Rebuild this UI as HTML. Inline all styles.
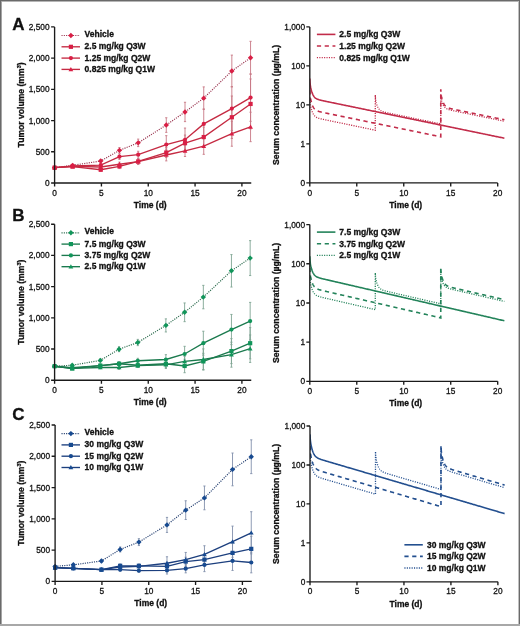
<!DOCTYPE html>
<html><head><meta charset="utf-8"><style>
html,body{margin:0;padding:0;background:#fff;}
body{width:520px;height:626px;overflow:hidden;}
svg{display:block;font-family:"Liberation Sans", sans-serif;will-change:transform;}
.tn{font-weight:normal;fill:#111;stroke:#111;stroke-width:0.28px;}
.tb{font-weight:bold;fill:#111;stroke:#111;stroke-width:0.3px;}
.tr{font-weight:bold;fill:#111;stroke:#111;stroke-width:0.3px;}
</style></head><body>
<svg width="520" height="626" viewBox="0 0 520 626">
<rect x="0" y="0" width="520" height="626" fill="#fff"/>
<g fill="#111">
<text class="tb" x="12.2" y="30.4" font-size="17" text-anchor="start" >A</text>
<path d="M54.6 167.02V168.26M53.5 167.02H55.7M53.5 168.26H55.7" stroke="#c87884" stroke-width="0.9" fill="none"/>
<path d="M72.63 164.39V166.27M71.53 164.39H73.73M71.53 166.27H73.73" stroke="#c87884" stroke-width="0.9" fill="none"/>
<path d="M100.73 159.46V162.58M99.63 159.46H101.83M99.63 162.58H101.83" stroke="#c87884" stroke-width="0.9" fill="none"/>
<path d="M119.45 147.53V153.15M118.36 147.53H120.55M118.36 153.15H120.55" stroke="#c87884" stroke-width="0.9" fill="none"/>
<path d="M138.19 139.1V146.6M137.09 139.1H139.28M137.09 146.6H139.28" stroke="#c87884" stroke-width="0.9" fill="none"/>
<path d="M166.28 117.75V132.36M165.18 117.75H167.38M165.18 132.36H167.38" stroke="#c87884" stroke-width="0.9" fill="none"/>
<path d="M185.01 102.27V121.62M183.91 102.27H186.11M183.91 121.62H186.11" stroke="#c87884" stroke-width="0.9" fill="none"/>
<path d="M203.74 86.9V109.38M202.64 86.9H204.84M202.64 109.38H204.84" stroke="#c87884" stroke-width="0.9" fill="none"/>
<path d="M231.84 55.12V86.84M230.74 55.12H232.94M230.74 86.84H232.94" stroke="#c87884" stroke-width="0.9" fill="none"/>
<path d="M250.56 41.32V74.29M249.47 41.32H251.66M249.47 74.29H251.66" stroke="#c87884" stroke-width="0.9" fill="none"/>
<path d="M54.6 167.02V168.26M53.5 167.02H55.7M53.5 168.26H55.7" stroke="#c87884" stroke-width="0.9" fill="none"/>
<path d="M72.63 165.7V167.58M71.53 165.7H73.73M71.53 167.58H73.73" stroke="#c87884" stroke-width="0.9" fill="none"/>
<path d="M100.73 168.51V171.01M99.63 168.51H101.83M99.63 171.01H101.83" stroke="#c87884" stroke-width="0.9" fill="none"/>
<path d="M119.45 164.21V168.58M118.36 164.21H120.55M118.36 168.58H120.55" stroke="#c87884" stroke-width="0.9" fill="none"/>
<path d="M138.19 158.65V164.27M137.09 158.65H139.28M137.09 164.27H139.28" stroke="#c87884" stroke-width="0.9" fill="none"/>
<path d="M166.28 147.53V157.52M165.18 147.53H167.38M165.18 157.52H167.38" stroke="#c87884" stroke-width="0.9" fill="none"/>
<path d="M185.01 135.05V151.28M183.91 135.05H186.11M183.91 151.28H186.11" stroke="#c87884" stroke-width="0.9" fill="none"/>
<path d="M203.74 127.05V147.03M202.64 127.05H204.84M202.64 147.03H204.84" stroke="#c87884" stroke-width="0.9" fill="none"/>
<path d="M231.84 96.02V138.48M230.74 96.02H232.94M230.74 138.48H232.94" stroke="#c87884" stroke-width="0.9" fill="none"/>
<path d="M250.56 78.97V128.93M249.47 78.97H251.66M249.47 128.93H251.66" stroke="#c87884" stroke-width="0.9" fill="none"/>
<path d="M54.6 167.02V168.26M53.5 167.02H55.7M53.5 168.26H55.7" stroke="#c87884" stroke-width="0.9" fill="none"/>
<path d="M72.63 165.08V166.95M71.53 165.08H73.73M71.53 166.95H73.73" stroke="#c87884" stroke-width="0.9" fill="none"/>
<path d="M100.73 163.64V166.77M99.63 163.64H101.83M99.63 166.77H101.83" stroke="#c87884" stroke-width="0.9" fill="none"/>
<path d="M119.45 153.84V159.46M118.36 153.84H120.55M118.36 159.46H120.55" stroke="#c87884" stroke-width="0.9" fill="none"/>
<path d="M138.19 151.28V158.15M137.09 151.28H139.28M137.09 158.15H139.28" stroke="#c87884" stroke-width="0.9" fill="none"/>
<path d="M166.28 135.67V153.4M165.18 135.67H167.38M165.18 153.4H167.38" stroke="#c87884" stroke-width="0.9" fill="none"/>
<path d="M185.01 128.05V151.41M183.91 128.05H186.11M183.91 151.41H186.11" stroke="#c87884" stroke-width="0.9" fill="none"/>
<path d="M203.74 108.95V138.92M202.64 108.95H204.84M202.64 138.92H204.84" stroke="#c87884" stroke-width="0.9" fill="none"/>
<path d="M231.84 86.72V130.43M230.74 86.72H232.94M230.74 130.43H232.94" stroke="#c87884" stroke-width="0.9" fill="none"/>
<path d="M250.56 73.85V121.31M249.47 73.85H251.66M249.47 121.31H251.66" stroke="#c87884" stroke-width="0.9" fill="none"/>
<path d="M54.6 167.02V168.26M53.5 167.02H55.7M53.5 168.26H55.7" stroke="#c87884" stroke-width="0.9" fill="none"/>
<path d="M72.63 165.45V167.33M71.53 165.45H73.73M71.53 167.33H73.73" stroke="#c87884" stroke-width="0.9" fill="none"/>
<path d="M100.73 165.77V168.26M99.63 165.77H101.83M99.63 168.26H101.83" stroke="#c87884" stroke-width="0.9" fill="none"/>
<path d="M119.45 162.08V166.45M118.36 162.08H120.55M118.36 166.45H120.55" stroke="#c87884" stroke-width="0.9" fill="none"/>
<path d="M138.19 158.9V164.52M137.09 158.9H139.28M137.09 164.52H139.28" stroke="#c87884" stroke-width="0.9" fill="none"/>
<path d="M166.28 149.16V160.9M165.18 149.16H167.38M165.18 160.9H167.38" stroke="#c87884" stroke-width="0.9" fill="none"/>
<path d="M185.01 145.29V156.53M183.91 145.29H186.11M183.91 156.53H186.11" stroke="#c87884" stroke-width="0.9" fill="none"/>
<path d="M203.74 138.11V154.34M202.64 138.11H204.84M202.64 154.34H204.84" stroke="#c87884" stroke-width="0.9" fill="none"/>
<path d="M231.84 121.25V146.22M230.74 121.25H232.94M230.74 146.22H232.94" stroke="#c87884" stroke-width="0.9" fill="none"/>
<path d="M250.56 112.19V141.66M249.47 112.19H251.66M249.47 141.66H251.66" stroke="#c87884" stroke-width="0.9" fill="none"/>
<polyline points="54.6,167.64 72.63,165.33 100.73,161.02 119.45,150.34 138.19,142.85 166.28,125.06 185.01,111.94 203.74,98.14 231.84,70.98 250.56,57.81" fill="none" stroke="#9a3550" stroke-width="1.2" stroke-dasharray="1.1 1.2"/>
<polyline points="54.6,167.64 72.63,166.64 100.73,169.76 119.45,166.39 138.19,161.46 166.28,152.53 185.01,143.16 203.74,137.04 231.84,117.25 250.56,103.95" fill="none" stroke="#c52a42" stroke-width="1.35"/>
<polyline points="54.6,167.64 72.63,166.02 100.73,165.2 119.45,156.65 138.19,154.71 166.28,144.54 185.01,139.73 203.74,123.93 231.84,108.57 250.56,97.58" fill="none" stroke="#c52a42" stroke-width="1.35"/>
<polyline points="54.6,167.64 72.63,166.39 100.73,167.02 119.45,164.27 138.19,161.71 166.28,155.03 185.01,150.91 203.74,146.22 231.84,133.73 250.56,126.93" fill="none" stroke="#c52a42" stroke-width="1.35"/>
<path d="M54.6 164.94L57.3 167.64L54.6 170.34L51.9 167.64Z" fill="#d91f45"/>
<path d="M72.63 162.63L75.33 165.33L72.63 168.03L69.93 165.33Z" fill="#d91f45"/>
<path d="M100.73 158.32L103.43 161.02L100.73 163.72L98.03 161.02Z" fill="#d91f45"/>
<path d="M119.45 147.64L122.16 150.34L119.45 153.04L116.75 150.34Z" fill="#d91f45"/>
<path d="M138.19 140.15L140.88 142.85L138.19 145.55L135.49 142.85Z" fill="#d91f45"/>
<path d="M166.28 122.36L168.98 125.06L166.28 127.76L163.58 125.06Z" fill="#d91f45"/>
<path d="M185.01 109.24L187.71 111.94L185.01 114.64L182.31 111.94Z" fill="#d91f45"/>
<path d="M203.74 95.44L206.44 98.14L203.74 100.84L201.04 98.14Z" fill="#d91f45"/>
<path d="M231.84 68.28L234.53 70.98L231.84 73.68L229.14 70.98Z" fill="#d91f45"/>
<path d="M250.56 55.11L253.26 57.81L250.56 60.51L247.87 57.81Z" fill="#d91f45"/>
<rect x="52.5" y="165.54" width="4.2" height="4.2" fill="#d91f45"/>
<rect x="70.53" y="164.54" width="4.2" height="4.2" fill="#d91f45"/>
<rect x="98.63" y="167.66" width="4.2" height="4.2" fill="#d91f45"/>
<rect x="117.36" y="164.29" width="4.2" height="4.2" fill="#d91f45"/>
<rect x="136.09" y="159.36" width="4.2" height="4.2" fill="#d91f45"/>
<rect x="164.18" y="150.43" width="4.2" height="4.2" fill="#d91f45"/>
<rect x="182.91" y="141.06" width="4.2" height="4.2" fill="#d91f45"/>
<rect x="201.64" y="134.94" width="4.2" height="4.2" fill="#d91f45"/>
<rect x="229.74" y="115.15" width="4.2" height="4.2" fill="#d91f45"/>
<rect x="248.47" y="101.85" width="4.2" height="4.2" fill="#d91f45"/>
<circle cx="54.6" cy="167.64" r="2.1" fill="#d91f45"/>
<circle cx="72.63" cy="166.02" r="2.1" fill="#d91f45"/>
<circle cx="100.73" cy="165.2" r="2.1" fill="#d91f45"/>
<circle cx="119.45" cy="156.65" r="2.1" fill="#d91f45"/>
<circle cx="138.19" cy="154.71" r="2.1" fill="#d91f45"/>
<circle cx="166.28" cy="144.54" r="2.1" fill="#d91f45"/>
<circle cx="185.01" cy="139.73" r="2.1" fill="#d91f45"/>
<circle cx="203.74" cy="123.93" r="2.1" fill="#d91f45"/>
<circle cx="231.84" cy="108.57" r="2.1" fill="#d91f45"/>
<circle cx="250.56" cy="97.58" r="2.1" fill="#d91f45"/>
<path d="M54.6 165.24L57 169.44L52.2 169.44Z" fill="#d91f45"/>
<path d="M72.63 163.99L75.03 168.19L70.23 168.19Z" fill="#d91f45"/>
<path d="M100.73 164.62L103.13 168.82L98.33 168.82Z" fill="#d91f45"/>
<path d="M119.45 161.87L121.86 166.07L117.05 166.07Z" fill="#d91f45"/>
<path d="M138.19 159.31L140.59 163.51L135.78 163.51Z" fill="#d91f45"/>
<path d="M166.28 152.63L168.68 156.83L163.88 156.83Z" fill="#d91f45"/>
<path d="M185.01 148.51L187.41 152.71L182.61 152.71Z" fill="#d91f45"/>
<path d="M203.74 143.82L206.14 148.02L201.34 148.02Z" fill="#d91f45"/>
<path d="M231.84 131.33L234.24 135.53L229.44 135.53Z" fill="#d91f45"/>
<path d="M250.56 124.53L252.97 128.73L248.16 128.73Z" fill="#d91f45"/>
<path d="M54.6 26.9V183H251.26" stroke="#1a1a1a" stroke-width="1.35" fill="none"/>
<path d="M51.1 183H54.6M51.1 151.78H54.6M51.1 120.56H54.6M51.1 89.34H54.6M51.1 58.12H54.6M51.1 26.9H54.6M54.6 183V186.5M101.43 183V186.5M148.25 183V186.5M195.07 183V186.5M241.9 183V186.5" stroke="#1a1a1a" stroke-width="1.35" fill="none"/>
<text class="tn" x="49.5" y="186" font-size="8.3" text-anchor="end" >0</text>
<text class="tn" x="49.5" y="154.78" font-size="8.3" text-anchor="end" >500</text>
<text class="tn" x="49.5" y="123.56" font-size="8.3" text-anchor="end" >1,000</text>
<text class="tn" x="49.5" y="92.34" font-size="8.3" text-anchor="end" >1,500</text>
<text class="tn" x="49.5" y="61.12" font-size="8.3" text-anchor="end" >2,000</text>
<text class="tn" x="49.5" y="29.9" font-size="8.3" text-anchor="end" >2,500</text>
<text class="tn" x="54.6" y="195.6" font-size="8.3" text-anchor="middle" >0</text>
<text class="tn" x="101.43" y="195.6" font-size="8.3" text-anchor="middle" >5</text>
<text class="tn" x="148.25" y="195.6" font-size="8.3" text-anchor="middle" >10</text>
<text class="tn" x="195.07" y="195.6" font-size="8.3" text-anchor="middle" >15</text>
<text class="tn" x="241.9" y="195.6" font-size="8.3" text-anchor="middle" >20</text>
<text class="tb" x="150.25" y="207.7" font-size="8.5" text-anchor="middle" >Time (d)</text>
<text class="tr" transform="translate(24.2 104.95) rotate(-90)" font-size="8.6" text-anchor="middle">Tumor volume (mm<tspan font-size="5.5" dy="-3">3</tspan><tspan dy="3">)</tspan></text>
<path d="M61.5 35.5H80" stroke="#9a3550" stroke-width="1.2" stroke-dasharray="1.1 1.2"/>
<path d="M70.9 32.8L73.6 35.5L70.9 38.2L68.2 35.5Z" fill="#d91f45"/>
<text class="tb" x="84.6" y="36.9" font-size="8.5" text-anchor="start" >Vehicle</text>
<path d="M61.5 46.8H80" stroke="#c52a42" stroke-width="1.35"/>
<rect x="68.8" y="44.7" width="4.2" height="4.2" fill="#d91f45"/>
<text class="tb" x="84.6" y="49.3" font-size="8.5" text-anchor="start" >2.5 mg/kg Q3W</text>
<path d="M61.5 58.1H80" stroke="#c52a42" stroke-width="1.35"/>
<circle cx="70.9" cy="58.1" r="2.1" fill="#d91f45"/>
<text class="tb" x="84.6" y="60.6" font-size="8.5" text-anchor="start" >1.25 mg/kg Q2W</text>
<path d="M61.5 69.4H80" stroke="#c52a42" stroke-width="1.35"/>
<path d="M70.9 67L73.3 71.2L68.5 71.2Z" fill="#d91f45"/>
<text class="tb" x="84.6" y="71.9" font-size="8.5" text-anchor="start" >0.825 mg/kg Q1W</text>
<clipPath id="cpA"><rect x="309.8" y="6.9" width="210" height="175.5"/></clipPath>
<polyline points="309.8,78.54 309.8,78.57 309.81,78.67 309.81,78.85 309.83,79.11 309.84,79.46 309.86,79.87 309.89,80.35 309.92,80.89 309.96,81.47 310,82.07 310.04,82.69 310.09,83.31 310.15,83.91 310.21,84.51 310.28,85.08 310.35,85.63 310.43,86.16 310.52,86.68 310.61,87.18 310.71,87.67 310.81,88.15 310.92,88.63 311.03,89.11 311.15,89.59 311.28,90.07 311.41,90.55 311.55,91.03 311.7,91.5 311.85,91.98 312.01,92.44 312.17,92.9 312.35,93.35 312.53,93.79 312.71,94.22 312.9,94.64 313.1,95.03 313.31,95.42 313.52,95.78 313.74,96.13 313.96,96.45 314.19,96.76 314.43,97.05 314.68,97.33 314.93,97.58 315.19,97.82 315.46,98.04 315.73,98.25 316.01,98.44 316.3,98.62 316.6,98.79 316.9,98.94 317.21,99.09 317.53,99.23 317.85,99.35 318.18,99.48 318.52,99.59 318.87,99.7 319.22,99.81 319.58,99.91 319.95,100.01 320.33,100.11 320.71,100.21 321.1,100.3 321.5,100.4 321.91,100.49 322.32,100.58 322.74,100.68 323.17,100.77 323.61,100.87 324.05,100.96 324.5,101.06 324.96,101.15 325.43,101.25 325.91,101.35 326.39,101.45 326.88,101.55 327.38,101.66 327.88,101.76 328.4,101.87 328.92,101.98 329.45,102.09 329.99,102.2 330.53,102.31 331.09,102.43 331.65,102.54 332.22,102.66 332.79,102.78 333.38,102.9 333.97,103.02 334.57,103.15 335.18,103.27 335.8,103.4 336.43,103.53 337.06,103.66 337.7,103.79 338.35,103.93 339.01,104.06 339.68,104.2 340.35,104.34 341.04,104.48 341.73,104.62 342.43,104.77 343.14,104.91 343.85,105.06 344.58,105.21 345.31,105.36 346.05,105.51 346.8,105.67 347.56,105.83 348.32,105.98 349.1,106.14 349.88,106.31 350.67,106.47 351.47,106.63 352.28,106.8 353.1,106.97 353.92,107.14 354.76,107.31 355.6,107.49 356.45,107.66 357.31,107.84 358.18,108.02 359.06,108.2 359.94,108.38 360.83,108.57 361.74,108.75 362.65,108.94 363.57,109.13 364.5,109.32 365.43,109.52 366.38,109.71 367.33,109.91 368.3,110.11 369.27,110.31 370.25,110.51 371.24,110.71 372.24,110.92 373.24,111.13 374.26,111.34 375.28,111.55 375.29,111.55 375.29,111.55 375.29,111.55 375.3,111.55 375.31,111.55 375.33,111.56 375.35,111.56 375.37,111.57 375.41,111.57 375.44,111.58 375.48,111.59 375.53,111.6 375.58,111.61 375.64,111.62 375.7,111.63 375.77,111.65 375.84,111.66 375.92,111.68 376,111.7 376.09,111.72 376.19,111.74 376.29,111.76 376.4,111.78 376.52,111.8 376.64,111.83 376.76,111.85 376.9,111.88 377.04,111.91 377.18,111.94 377.34,111.97 377.49,112 377.66,112.04 377.83,112.07 378.01,112.11 378.2,112.15 378.39,112.19 378.59,112.23 378.79,112.27 379,112.32 379.22,112.36 379.45,112.41 379.68,112.46 379.92,112.5 380.16,112.56 380.42,112.61 380.68,112.66 380.94,112.72 381.22,112.77 381.5,112.83 381.79,112.89 382.08,112.95 382.39,113.01 382.7,113.08 383.01,113.14 383.34,113.21 383.67,113.28 384.01,113.35 384.35,113.42 384.71,113.49 385.07,113.57 385.44,113.64 385.81,113.72 386.2,113.8 386.59,113.88 386.99,113.96 387.39,114.05 387.81,114.13 388.23,114.22 388.66,114.31 389.09,114.4 389.54,114.49 389.99,114.58 390.45,114.68 390.92,114.77 391.39,114.87 391.87,114.97 392.36,115.07 392.86,115.18 393.37,115.28 393.88,115.39 394.4,115.49 394.93,115.6 395.47,115.71 396.02,115.83 396.57,115.94 397.13,116.06 397.7,116.18 398.28,116.29 398.86,116.42 399.46,116.54 400.06,116.66 400.67,116.79 401.29,116.92 401.91,117.04 402.55,117.18 403.19,117.31 403.84,117.44 404.5,117.58 405.16,117.72 405.84,117.85 406.52,118 407.21,118.14 407.91,118.28 408.62,118.43 409.34,118.58 410.06,118.73 410.79,118.88 411.53,119.03 412.28,119.19 413.04,119.34 413.81,119.5 414.58,119.66 415.37,119.82 416.16,119.98 416.96,120.15 417.77,120.32 418.58,120.49 419.41,120.66 420.24,120.83 421.08,121 421.94,121.18 422.8,121.35 423.66,121.53 424.54,121.71 425.43,121.9 426.32,122.08 427.22,122.27 428.13,122.46 429.05,122.65 429.98,122.84 430.92,123.03 431.86,123.23 432.82,123.42 433.78,123.62 434.75,123.82 435.73,124.03 436.72,124.23 437.72,124.44 438.73,124.64 439.75,124.85 440.77,125.06 440.77,125.06 440.77,125.06 440.78,125.07 440.78,125.07 440.8,125.07 440.81,125.07 440.83,125.08 440.86,125.08 440.89,125.09 440.92,125.1 440.96,125.1 441.01,125.11 441.06,125.12 441.11,125.14 441.17,125.15 441.24,125.16 441.31,125.18 441.39,125.19 441.47,125.21 441.56,125.23 441.65,125.25 441.75,125.27 441.85,125.29 441.97,125.31 442.08,125.34 442.21,125.36 442.34,125.39 442.47,125.42 442.61,125.45 442.76,125.48 442.92,125.51 443.08,125.54 443.24,125.58 443.42,125.61 443.6,125.65 443.78,125.69 443.98,125.73 444.17,125.77 444.38,125.81 444.59,125.85 444.81,125.9 445.04,125.95 445.27,125.99 445.51,126.04 445.76,126.09 446.01,126.15 446.27,126.2 446.53,126.25 446.81,126.31 447.09,126.37 447.37,126.43 447.67,126.49 447.97,126.55 448.28,126.61 448.59,126.68 448.91,126.75 449.24,126.81 449.58,126.88 449.92,126.95 450.27,127.03 450.63,127.1 451,127.18 451.37,127.25 451.75,127.33 452.14,127.41 452.53,127.49 452.93,127.58 453.34,127.66 453.76,127.75 454.18,127.83 454.61,127.92 455.05,128.01 455.5,128.1 455.95,128.2 456.42,128.29 456.88,128.39 457.36,128.49 457.84,128.59 458.34,128.69 458.84,128.79 459.34,128.9 459.86,129 460.38,129.11 460.91,129.22 461.45,129.33 461.99,129.44 462.55,129.56 463.11,129.67 463.68,129.79 464.25,129.91 464.84,130.03 465.43,130.15 466.03,130.28 466.64,130.4 467.25,130.53 467.88,130.66 468.51,130.79 469.15,130.92 469.79,131.06 470.45,131.19 471.11,131.33 471.79,131.47 472.47,131.61 473.15,131.75 473.85,131.89 474.55,132.04 475.26,132.18 475.98,132.33 476.71,132.48 477.45,132.64 478.19,132.79 478.95,132.94 479.71,133.1 480.47,133.26 481.25,133.42 482.04,133.58 482.83,133.75 483.63,133.91 484.44,134.08 485.26,134.25 486.09,134.42 486.92,134.59 487.77,134.76 488.62,134.94 489.48,135.12 490.35,135.3 491.22,135.48 492.11,135.66 493,135.85 493.9,136.03 494.81,136.22 495.73,136.41 496.66,136.6 497.6,136.79 498.54,136.99 499.49,137.19 500.45,137.38 501.42,137.58 502.4,137.79 503.39,137.99 504.38,138.19" fill="none" stroke="#c22c4a" stroke-width="1.6" clip-path="url(#cpA)"/>
<polyline points="309.8,90.28 309.8,90.31 309.81,90.41 309.81,90.59 309.83,90.85 309.84,91.2 309.86,91.61 309.89,92.09 309.92,92.63 309.96,93.21 310,93.81 310.04,94.43 310.09,95.05 310.15,95.65 310.21,96.25 310.28,96.82 310.35,97.37 310.43,97.91 310.52,98.42 310.61,98.92 310.71,99.41 310.81,99.89 310.92,100.37 311.03,100.85 311.15,101.33 311.28,101.81 311.41,102.29 311.55,102.77 311.7,103.24 311.85,103.72 312.01,104.18 312.17,104.64 312.35,105.09 312.53,105.53 312.71,105.96 312.9,106.38 313.1,106.77 313.31,107.16 313.52,107.52 313.74,107.87 313.96,108.19 314.19,108.5 314.43,108.79 314.68,109.07 314.93,109.32 315.19,109.56 315.46,109.78 315.73,109.99 316.01,110.18 316.3,110.36 316.6,110.53 316.9,110.68 317.21,110.83 317.53,110.97 317.85,111.09 318.18,111.22 318.52,111.33 318.87,111.44 319.22,111.55 319.58,111.65 319.95,111.75 320.33,111.85 320.71,111.95 321.1,112.04 321.5,112.14 321.91,112.23 322.32,112.32 322.74,112.42 323.17,112.51 323.61,112.61 324.05,112.7 324.5,112.8 324.96,112.89 325.43,112.99 325.91,113.09 326.39,113.19 326.88,113.29 327.38,113.4 327.88,113.5 328.4,113.61 328.92,113.72 329.45,113.83 329.99,113.94 330.53,114.05 331.09,114.17 331.65,114.28 332.22,114.4 332.79,114.52 333.38,114.64 333.97,114.76 334.57,114.89 335.18,115.01 335.8,115.14 336.43,115.27 337.06,115.4 337.7,115.53 338.35,115.67 339.01,115.8 339.68,115.94 340.35,116.08 341.04,116.22 341.73,116.36 342.43,116.51 343.14,116.65 343.85,116.8 344.58,116.95 345.31,117.1 346.05,117.25 346.8,117.41 347.56,117.57 348.32,117.72 349.1,117.88 349.88,118.05 350.67,118.21 351.47,118.37 352.28,118.54 353.1,118.71 353.92,118.88 354.76,119.05 355.6,119.23 356.45,119.4 357.31,119.58 358.18,119.76 359.06,119.94 359.94,120.12 360.83,120.31 361.74,120.49 362.65,120.68 363.57,120.87 364.5,121.06 365.43,121.26 366.38,121.45 367.33,121.65 368.3,121.85 369.27,122.05 370.25,122.25 371.24,122.45 372.24,122.66 373.24,122.87 374.26,123.08 375.28,123.29 375.29,123.29 375.29,123.29 375.29,123.29 375.3,123.29 375.31,123.29 375.33,123.3 375.35,123.3 375.37,123.31 375.41,123.31 375.44,123.32 375.48,123.33 375.53,123.34 375.58,123.35 375.64,123.36 375.7,123.37 375.77,123.39 375.84,123.4 375.92,123.42 376,123.44 376.09,123.46 376.19,123.48 376.29,123.5 376.4,123.52 376.52,123.54 376.64,123.57 376.76,123.59 376.9,123.62 377.04,123.65 377.18,123.68 377.34,123.71 377.49,123.74 377.66,123.78 377.83,123.81 378.01,123.85 378.2,123.89 378.39,123.93 378.59,123.97 378.79,124.01 379,124.06 379.22,124.1 379.45,124.15 379.68,124.2 379.92,124.24 380.16,124.3 380.42,124.35 380.68,124.4 380.94,124.46 381.22,124.51 381.5,124.57 381.79,124.63 382.08,124.69 382.39,124.75 382.7,124.82 383.01,124.88 383.34,124.95 383.67,125.02 384.01,125.09 384.35,125.16 384.71,125.23 385.07,125.31 385.44,125.38 385.81,125.46 386.2,125.54 386.59,125.62 386.99,125.7 387.39,125.79 387.81,125.87 388.23,125.96 388.66,126.05 389.09,126.14 389.54,126.23 389.99,126.32 390.45,126.42 390.92,126.51 391.39,126.61 391.87,126.71 392.36,126.81 392.86,126.92 393.37,127.02 393.88,127.13 394.4,127.23 394.93,127.34 395.47,127.46 396.02,127.57 396.57,127.68 397.13,127.8 397.7,127.92 398.28,128.03 398.86,128.16 399.46,128.28 400.06,128.4 400.67,128.53 401.29,128.66 401.91,128.78 402.55,128.92 403.19,129.05 403.84,129.18 404.5,129.32 405.16,129.46 405.84,129.59 406.52,129.74 407.21,129.88 407.91,130.02 408.62,130.17 409.34,130.32 410.06,130.47 410.79,130.62 411.53,130.77 412.28,130.93 413.04,131.08 413.81,131.24 414.58,131.4 415.37,131.56 416.16,131.72 416.96,131.89 417.77,132.06 418.58,132.23 419.41,132.4 420.24,132.57 421.08,132.74 421.94,132.92 422.8,133.09 423.66,133.27 424.54,133.45 425.43,133.64 426.32,133.82 427.22,134.01 428.13,134.2 429.05,134.39 429.98,134.58 430.92,134.77 431.86,134.97 432.82,135.16 433.78,135.36 434.75,135.56 435.73,135.77 436.72,135.97 437.72,136.18 438.73,136.38 439.75,136.59 440.77,136.8 440.77,89.23 440.77,89.26 440.78,89.35 440.78,89.51 440.8,89.75 440.81,90.06 440.83,90.44 440.86,90.88 440.89,91.37 440.92,91.9 440.96,92.45 441.01,93.02 441.06,93.58 441.11,94.14 441.17,94.68 441.24,95.2 441.31,95.7 441.39,96.19 441.47,96.65 441.56,97.1 441.65,97.55 441.75,97.98 441.85,98.41 441.97,98.83 442.08,99.26 442.21,99.68 442.34,100.11 442.47,100.53 442.61,100.95 442.76,101.36 442.92,101.77 443.08,102.18 443.24,102.58 443.42,102.96 443.6,103.34 443.78,103.7 443.98,104.05 444.17,104.39 444.38,104.71 444.59,105.02 444.81,105.31 445.04,105.58 445.27,105.84 445.51,106.09 445.76,106.31 446.01,106.53 446.27,106.73 446.53,106.92 446.81,107.09 447.09,107.26 447.37,107.41 447.67,107.56 447.97,107.69 448.28,107.82 448.59,107.94 448.91,108.06 449.24,108.17 449.58,108.27 449.92,108.38 450.27,108.47 450.63,108.57 451,108.67 451.37,108.76 451.75,108.85 452.14,108.94 452.53,109.03 452.93,109.12 453.34,109.21 453.76,109.31 454.18,109.4 454.61,109.49 455.05,109.58 455.5,109.68 455.95,109.77 456.42,109.87 456.88,109.97 457.36,110.07 457.84,110.17 458.34,110.27 458.84,110.37 459.34,110.48 459.86,110.59 460.38,110.69 460.91,110.8 461.45,110.91 461.99,111.03 462.55,111.14 463.11,111.26 463.68,111.37 464.25,111.49 464.84,111.61 465.43,111.74 466.03,111.86 466.64,111.99 467.25,112.11 467.88,112.24 468.51,112.37 469.15,112.5 469.79,112.64 470.45,112.77 471.11,112.91 471.79,113.05 472.47,113.19 473.15,113.33 473.85,113.47 474.55,113.62 475.26,113.77 475.98,113.91 476.71,114.06 477.45,114.22 478.19,114.37 478.95,114.53 479.71,114.68 480.47,114.84 481.25,115 482.04,115.16 482.83,115.33 483.63,115.49 484.44,115.66 485.26,115.83 486.09,116 486.92,116.17 487.77,116.35 488.62,116.52 489.48,116.7 490.35,116.88 491.22,117.06 492.11,117.24 493,117.43 493.9,117.61 494.81,117.8 495.73,117.99 496.66,118.18 497.6,118.38 498.54,118.57 499.49,118.77 500.45,118.97 501.42,119.17 502.4,119.37 503.39,119.57 504.38,119.78" fill="none" stroke="#c22c4a" stroke-width="1.6" stroke-dasharray="4.2 3.6" clip-path="url(#cpA)"/>
<polyline points="309.8,97.15 309.8,97.18 309.81,97.28 309.81,97.46 309.83,97.72 309.84,98.06 309.86,98.48 309.89,98.96 309.92,99.5 309.96,100.08 310,100.68 310.04,101.3 310.09,101.91 310.15,102.52 310.21,103.12 310.28,103.69 310.35,104.24 310.43,104.77 310.52,105.29 310.61,105.79 310.71,106.28 310.81,106.76 310.92,107.24 311.03,107.72 311.15,108.2 311.28,108.68 311.41,109.16 311.55,109.63 311.7,110.11 311.85,110.58 312.01,111.05 312.17,111.51 312.35,111.96 312.53,112.4 312.71,112.83 312.9,113.24 313.1,113.64 313.31,114.02 313.52,114.39 313.74,114.73 313.96,115.06 314.19,115.37 314.43,115.66 314.68,115.93 314.93,116.19 315.19,116.43 315.46,116.65 315.73,116.86 316.01,117.05 316.3,117.23 316.6,117.39 316.9,117.55 317.21,117.7 317.53,117.83 317.85,117.96 318.18,118.08 318.52,118.2 318.87,118.31 319.22,118.42 319.58,118.52 319.95,118.62 320.33,118.72 320.71,118.82 321.1,118.91 321.5,119 321.91,119.1 322.32,119.19 322.74,119.28 323.17,119.38 323.61,119.47 324.05,119.57 324.5,119.66 324.96,119.76 325.43,119.86 325.91,119.96 326.39,120.06 326.88,120.16 327.38,120.27 327.88,120.37 328.4,120.48 328.92,120.59 329.45,120.69 329.99,120.81 330.53,120.92 331.09,121.03 331.65,121.15 332.22,121.27 332.79,121.39 333.38,121.51 333.97,121.63 334.57,121.75 335.18,121.88 335.8,122.01 336.43,122.14 337.06,122.27 337.7,122.4 338.35,122.53 339.01,122.67 339.68,122.81 340.35,122.95 341.04,123.09 341.73,123.23 342.43,123.37 343.14,123.52 343.85,123.67 344.58,123.82 345.31,123.97 346.05,124.12 346.8,124.28 347.56,124.43 348.32,124.59 349.1,124.75 349.88,124.91 350.67,125.08 351.47,125.24 352.28,125.41 353.1,125.58 353.92,125.75 354.76,125.92 355.6,126.09 356.45,126.27 357.31,126.45 358.18,126.63 359.06,126.81 359.94,126.99 360.83,127.17 361.74,127.36 362.65,127.55 363.57,127.74 364.5,127.93 365.43,128.12 366.38,128.32 367.33,128.52 368.3,128.71 369.27,128.91 370.25,129.12 371.24,129.32 372.24,129.53 373.24,129.74 374.26,129.94 375.28,130.16 375.29,94.9 375.29,94.92 375.29,95.01 375.3,95.16 375.31,95.39 375.33,95.69 375.35,96.05 375.37,96.47 375.41,96.94 375.44,97.43 375.48,97.95 375.53,98.47 375.58,98.99 375.64,99.51 375.7,100.01 375.77,100.48 375.84,100.94 375.92,101.38 376,101.8 376.09,102.21 376.19,102.61 376.29,103.01 376.4,103.39 376.52,103.78 376.64,104.16 376.76,104.54 376.9,104.92 377.04,105.3 377.18,105.68 377.34,106.05 377.49,106.41 377.66,106.77 377.83,107.12 378.01,107.46 378.2,107.78 378.39,108.1 378.59,108.4 378.79,108.7 379,108.97 379.22,109.24 379.45,109.49 379.68,109.72 379.92,109.94 380.16,110.15 380.42,110.35 380.68,110.53 380.94,110.7 381.22,110.87 381.5,111.02 381.79,111.16 382.08,111.3 382.39,111.42 382.7,111.55 383.01,111.66 383.34,111.77 383.67,111.88 384.01,111.98 384.35,112.08 384.71,112.17 385.07,112.27 385.44,112.36 385.81,112.45 386.2,112.54 386.59,112.63 386.99,112.72 387.39,112.81 387.81,112.91 388.23,113 388.66,113.09 389.09,113.18 389.54,113.28 389.99,113.37 390.45,113.47 390.92,113.57 391.39,113.66 391.87,113.77 392.36,113.87 392.86,113.97 393.37,114.08 393.88,114.18 394.4,114.29 394.93,114.4 395.47,114.51 396.02,114.62 396.57,114.74 397.13,114.85 397.7,114.97 398.28,115.09 398.86,115.21 399.46,115.33 400.06,115.46 400.67,115.58 401.29,115.71 401.91,115.84 402.55,115.97 403.19,116.1 403.84,116.24 404.5,116.37 405.16,116.51 405.84,116.65 406.52,116.79 407.21,116.93 407.91,117.08 408.62,117.22 409.34,117.37 410.06,117.52 410.79,117.67 411.53,117.83 412.28,117.98 413.04,118.14 413.81,118.3 414.58,118.46 415.37,118.62 416.16,118.78 416.96,118.95 417.77,119.11 418.58,119.28 419.41,119.45 420.24,119.62 421.08,119.8 421.94,119.97 422.8,120.15 423.66,120.33 424.54,120.51 425.43,120.69 426.32,120.88 427.22,121.06 428.13,121.25 429.05,121.44 429.98,121.63 430.92,121.83 431.86,122.02 432.82,122.22 433.78,122.42 434.75,122.62 435.73,122.82 436.72,123.03 437.72,123.23 438.73,123.44 439.75,123.65 440.77,123.86 440.77,93.97 440.77,93.99 440.78,94.07 440.78,94.22 440.8,94.43 440.81,94.7 440.83,95.04 440.86,95.42 440.89,95.85 440.92,96.31 440.96,96.78 441.01,97.27 441.06,97.75 441.11,98.23 441.17,98.69 441.24,99.13 441.31,99.56 441.39,99.96 441.47,100.35 441.56,100.73 441.65,101.1 441.75,101.45 441.85,101.81 441.97,102.16 442.08,102.51 442.21,102.85 442.34,103.2 442.47,103.54 442.61,103.88 442.76,104.22 442.92,104.55 443.08,104.87 443.24,105.19 443.42,105.5 443.6,105.79 443.78,106.08 443.98,106.36 444.17,106.63 444.38,106.88 444.59,107.12 444.81,107.35 445.04,107.57 445.27,107.78 445.51,107.97 445.76,108.16 446.01,108.33 446.27,108.49 446.53,108.64 446.81,108.79 447.09,108.93 447.37,109.05 447.67,109.18 447.97,109.29 448.28,109.4 448.59,109.51 448.91,109.61 449.24,109.71 449.58,109.81 449.92,109.9 450.27,109.99 450.63,110.08 451,110.17 451.37,110.26 451.75,110.35 452.14,110.44 452.53,110.53 452.93,110.61 453.34,110.7 453.76,110.79 454.18,110.88 454.61,110.98 455.05,111.07 455.5,111.16 455.95,111.26 456.42,111.35 456.88,111.45 457.36,111.55 457.84,111.65 458.34,111.75 458.84,111.86 459.34,111.96 459.86,112.07 460.38,112.18 460.91,112.28 461.45,112.4 461.99,112.51 462.55,112.62 463.11,112.74 463.68,112.86 464.25,112.97 464.84,113.1 465.43,113.22 466.03,113.34 466.64,113.47 467.25,113.59 467.88,113.72 468.51,113.85 469.15,113.99 469.79,114.12 470.45,114.25 471.11,114.39 471.79,114.53 472.47,114.67 473.15,114.81 473.85,114.96 474.55,115.1 475.26,115.25 475.98,115.4 476.71,115.55 477.45,115.7 478.19,115.85 478.95,116.01 479.71,116.16 480.47,116.32 481.25,116.48 482.04,116.65 482.83,116.81 483.63,116.98 484.44,117.14 485.26,117.31 486.09,117.48 486.92,117.65 487.77,117.83 488.62,118 489.48,118.18 490.35,118.36 491.22,118.54 492.11,118.72 493,118.91 493.9,119.09 494.81,119.28 495.73,119.47 496.66,119.66 497.6,119.86 498.54,120.05 499.49,120.25 500.45,120.45 501.42,120.65 502.4,120.85 503.39,121.05 504.38,121.26" fill="none" stroke="#c22c4a" stroke-width="1.3" stroke-dasharray="1.1 1.3" clip-path="url(#cpA)"/>
<path d="M309.8 26.9V182.9H497.7" stroke="#1a1a1a" stroke-width="1.35" fill="none"/>
<path d="M306.3 26.9H309.8M306.3 65.9H309.8M306.3 104.9H309.8M306.3 143.9H309.8M306.3 182.9H309.8M309.8 182.9V186.4M356.77 182.9V186.4M403.75 182.9V186.4M450.73 182.9V186.4M497.7 182.9V186.4" stroke="#1a1a1a" stroke-width="1.35" fill="none"/>
<text class="tn" x="305.1" y="29.9" font-size="8.3" text-anchor="end" >1,000</text>
<text class="tn" x="305.1" y="68.9" font-size="8.3" text-anchor="end" >100</text>
<text class="tn" x="305.1" y="107.9" font-size="8.3" text-anchor="end" >10</text>
<text class="tn" x="305.1" y="146.9" font-size="8.3" text-anchor="end" >1</text>
<text class="tn" x="305.1" y="185.9" font-size="8.3" text-anchor="end" >0</text>
<text class="tn" x="309.8" y="195.5" font-size="8.3" text-anchor="middle" >0</text>
<text class="tn" x="356.77" y="195.5" font-size="8.3" text-anchor="middle" >5</text>
<text class="tn" x="403.75" y="195.5" font-size="8.3" text-anchor="middle" >10</text>
<text class="tn" x="450.73" y="195.5" font-size="8.3" text-anchor="middle" >15</text>
<text class="tn" x="497.7" y="195.5" font-size="8.3" text-anchor="middle" >20</text>
<text class="tb" x="405.75" y="207.6" font-size="8.5" text-anchor="middle" >Time (d)</text>
<text class="tr" transform="translate(279.2 104.9) rotate(-90)" font-size="8.65" text-anchor="middle">Serum concentration (µg/mL)</text>
<path d="M316.9 34.4H335.4" stroke="#c22c4a" stroke-width="1.6"/>
<text class="tb" x="339.3" y="37.4" font-size="8.5" text-anchor="start" >2.5 mg/kg Q3W</text>
<path d="M316.9 46H335.4" stroke="#c22c4a" stroke-width="1.6" stroke-dasharray="4.2 3.6"/>
<text class="tb" x="339.3" y="49" font-size="8.5" text-anchor="start" >1.25 mg/kg Q2W</text>
<path d="M316.9 57.6H335.4" stroke="#c22c4a" stroke-width="1.3" stroke-dasharray="1.1 1.3"/>
<text class="tb" x="339.3" y="60.6" font-size="8.5" text-anchor="start" >0.825 mg/kg Q1W</text>
<text class="tb" x="12.2" y="221.3" font-size="17" text-anchor="start" >B</text>
<path d="M54.6 365.6V366.85M53.5 365.6H55.7M53.5 366.85H55.7" stroke="#7fa593" stroke-width="0.9" fill="none"/>
<path d="M72.23 364.29V366.16M71.13 364.29H73.33M71.13 366.16H73.33" stroke="#7fa593" stroke-width="0.9" fill="none"/>
<path d="M100.33 358.86V361.98M99.23 358.86H101.43M99.23 361.98H101.43" stroke="#7fa593" stroke-width="0.9" fill="none"/>
<path d="M119.06 346.69V351.68M117.96 346.69H120.16M117.96 351.68H120.16" stroke="#7fa593" stroke-width="0.9" fill="none"/>
<path d="M137.78 339.39V345.63M136.69 339.39H138.88M136.69 345.63H138.88" stroke="#7fa593" stroke-width="0.9" fill="none"/>
<path d="M165.88 318.86V331.96M164.78 318.86H166.98M164.78 331.96H166.98" stroke="#7fa593" stroke-width="0.9" fill="none"/>
<path d="M184.61 302.95V321.67M183.51 302.95H185.71M183.51 321.67H185.71" stroke="#7fa593" stroke-width="0.9" fill="none"/>
<path d="M203.34 285.35V308.81M202.24 285.35H204.44M202.24 308.81H204.44" stroke="#7fa593" stroke-width="0.9" fill="none"/>
<path d="M231.44 254.59V287.04M230.34 254.59H232.53M230.34 287.04H232.53" stroke="#7fa593" stroke-width="0.9" fill="none"/>
<path d="M250.16 240.61V275.56M249.06 240.61H251.26M249.06 275.56H251.26" stroke="#7fa593" stroke-width="0.9" fill="none"/>
<path d="M54.6 365.6V366.85M53.5 365.6H55.7M53.5 366.85H55.7" stroke="#7fa593" stroke-width="0.9" fill="none"/>
<path d="M72.23 367.6V369.47M71.13 367.6H73.33M71.13 369.47H73.33" stroke="#7fa593" stroke-width="0.9" fill="none"/>
<path d="M100.33 364.35V366.85M99.23 364.35H101.43M99.23 366.85H101.43" stroke="#7fa593" stroke-width="0.9" fill="none"/>
<path d="M119.06 361.85V365.6M117.96 361.85H120.16M117.96 365.6H120.16" stroke="#7fa593" stroke-width="0.9" fill="none"/>
<path d="M137.78 363.35V367.1M136.69 363.35H138.88M136.69 367.1H138.88" stroke="#7fa593" stroke-width="0.9" fill="none"/>
<path d="M165.88 360.04V367.53M164.78 360.04H166.98M164.78 367.53H166.98" stroke="#7fa593" stroke-width="0.9" fill="none"/>
<path d="M184.61 359.23V372.71M183.51 359.23H185.71M183.51 372.71H185.71" stroke="#7fa593" stroke-width="0.9" fill="none"/>
<path d="M203.34 353.31V369.53M202.24 353.31H204.44M202.24 369.53H204.44" stroke="#7fa593" stroke-width="0.9" fill="none"/>
<path d="M231.44 338.64V363.6M230.34 338.64H232.53M230.34 363.6H232.53" stroke="#7fa593" stroke-width="0.9" fill="none"/>
<path d="M250.16 327.6V358.8M249.06 327.6H251.26M249.06 358.8H251.26" stroke="#7fa593" stroke-width="0.9" fill="none"/>
<path d="M54.6 365.6V366.85M53.5 365.6H55.7M53.5 366.85H55.7" stroke="#7fa593" stroke-width="0.9" fill="none"/>
<path d="M72.23 366.78V368.66M71.13 366.78H73.33M71.13 368.66H73.33" stroke="#7fa593" stroke-width="0.9" fill="none"/>
<path d="M100.33 364.35V366.85M99.23 364.35H101.43M99.23 366.85H101.43" stroke="#7fa593" stroke-width="0.9" fill="none"/>
<path d="M119.06 361.85V365.6M117.96 361.85H120.16M117.96 365.6H120.16" stroke="#7fa593" stroke-width="0.9" fill="none"/>
<path d="M137.78 358.3V363.29M136.69 358.3H138.88M136.69 363.29H138.88" stroke="#7fa593" stroke-width="0.9" fill="none"/>
<path d="M165.88 354.68V364.29M164.78 354.68H166.98M164.78 364.29H166.98" stroke="#7fa593" stroke-width="0.9" fill="none"/>
<path d="M184.61 346.32V361.67M183.51 346.32H185.71M183.51 361.67H185.71" stroke="#7fa593" stroke-width="0.9" fill="none"/>
<path d="M203.34 331.22V355.18M202.24 331.22H204.44M202.24 355.18H204.44" stroke="#7fa593" stroke-width="0.9" fill="none"/>
<path d="M231.44 314.43V344.63M230.34 314.43H232.53M230.34 344.63H232.53" stroke="#7fa593" stroke-width="0.9" fill="none"/>
<path d="M250.16 302.39V339.83M249.06 302.39H251.26M249.06 339.83H251.26" stroke="#7fa593" stroke-width="0.9" fill="none"/>
<path d="M54.6 365.6V366.85M53.5 365.6H55.7M53.5 366.85H55.7" stroke="#7fa593" stroke-width="0.9" fill="none"/>
<path d="M72.23 367.41V369.28M71.13 367.41H73.33M71.13 369.28H73.33" stroke="#7fa593" stroke-width="0.9" fill="none"/>
<path d="M100.33 366.22V368.72M99.23 366.22H101.43M99.23 368.72H101.43" stroke="#7fa593" stroke-width="0.9" fill="none"/>
<path d="M119.06 365.6V369.34M117.96 365.6H120.16M117.96 369.34H120.16" stroke="#7fa593" stroke-width="0.9" fill="none"/>
<path d="M137.78 363.73V367.47M136.69 363.73H138.88M136.69 367.47H138.88" stroke="#7fa593" stroke-width="0.9" fill="none"/>
<path d="M165.88 361.04V368.53M164.78 361.04H166.98M164.78 368.53H166.98" stroke="#7fa593" stroke-width="0.9" fill="none"/>
<path d="M184.61 356.43V366.41M183.51 356.43H185.71M183.51 366.41H185.71" stroke="#7fa593" stroke-width="0.9" fill="none"/>
<path d="M203.34 348.88V370.09M202.24 348.88H204.44M202.24 370.09H204.44" stroke="#7fa593" stroke-width="0.9" fill="none"/>
<path d="M231.44 342.2V367.16M230.34 342.2H232.53M230.34 367.16H232.53" stroke="#7fa593" stroke-width="0.9" fill="none"/>
<path d="M250.16 334.96V362.42M249.06 334.96H251.26M249.06 362.42H251.26" stroke="#7fa593" stroke-width="0.9" fill="none"/>
<polyline points="54.6,366.22 72.23,365.22 100.33,360.42 119.06,349.19 137.78,342.51 165.88,325.41 184.61,312.31 203.34,297.08 231.44,270.81 250.16,258.08" fill="none" stroke="#2a6a4c" stroke-width="1.2" stroke-dasharray="1.1 1.2"/>
<polyline points="54.6,366.22 72.23,368.53 100.33,365.6 119.06,363.73 137.78,365.22 165.88,363.79 184.61,365.97 203.34,361.42 231.44,351.12 250.16,343.2" fill="none" stroke="#1b7a4e" stroke-width="1.35"/>
<polyline points="54.6,366.22 72.23,367.72 100.33,365.6 119.06,363.73 137.78,360.79 165.88,359.48 184.61,353.99 203.34,343.2 231.44,329.53 250.16,321.11" fill="none" stroke="#1b7a4e" stroke-width="1.35"/>
<polyline points="54.6,366.22 72.23,368.34 100.33,367.47 119.06,367.47 137.78,365.6 165.88,364.79 184.61,361.42 203.34,359.48 231.44,354.68 250.16,348.69" fill="none" stroke="#1b7a4e" stroke-width="1.35"/>
<path d="M54.6 363.52L57.3 366.22L54.6 368.92L51.9 366.22Z" fill="#11955a"/>
<path d="M72.23 362.52L74.93 365.22L72.23 367.92L69.53 365.22Z" fill="#11955a"/>
<path d="M100.33 357.72L103.03 360.42L100.33 363.12L97.63 360.42Z" fill="#11955a"/>
<path d="M119.06 346.49L121.76 349.19L119.06 351.89L116.36 349.19Z" fill="#11955a"/>
<path d="M137.78 339.81L140.48 342.51L137.78 345.21L135.09 342.51Z" fill="#11955a"/>
<path d="M165.88 322.71L168.58 325.41L165.88 328.11L163.18 325.41Z" fill="#11955a"/>
<path d="M184.61 309.61L187.31 312.31L184.61 315.01L181.91 312.31Z" fill="#11955a"/>
<path d="M203.34 294.38L206.04 297.08L203.34 299.78L200.64 297.08Z" fill="#11955a"/>
<path d="M231.44 268.11L234.13 270.81L231.44 273.51L228.74 270.81Z" fill="#11955a"/>
<path d="M250.16 255.38L252.86 258.08L250.16 260.78L247.47 258.08Z" fill="#11955a"/>
<rect x="52.5" y="364.12" width="4.2" height="4.2" fill="#11955a"/>
<rect x="70.13" y="366.43" width="4.2" height="4.2" fill="#11955a"/>
<rect x="98.23" y="363.5" width="4.2" height="4.2" fill="#11955a"/>
<rect x="116.96" y="361.63" width="4.2" height="4.2" fill="#11955a"/>
<rect x="135.69" y="363.12" width="4.2" height="4.2" fill="#11955a"/>
<rect x="163.78" y="361.69" width="4.2" height="4.2" fill="#11955a"/>
<rect x="182.51" y="363.87" width="4.2" height="4.2" fill="#11955a"/>
<rect x="201.24" y="359.32" width="4.2" height="4.2" fill="#11955a"/>
<rect x="229.34" y="349.02" width="4.2" height="4.2" fill="#11955a"/>
<rect x="248.06" y="341.1" width="4.2" height="4.2" fill="#11955a"/>
<circle cx="54.6" cy="366.22" r="2.1" fill="#11955a"/>
<circle cx="72.23" cy="367.72" r="2.1" fill="#11955a"/>
<circle cx="100.33" cy="365.6" r="2.1" fill="#11955a"/>
<circle cx="119.06" cy="363.73" r="2.1" fill="#11955a"/>
<circle cx="137.78" cy="360.79" r="2.1" fill="#11955a"/>
<circle cx="165.88" cy="359.48" r="2.1" fill="#11955a"/>
<circle cx="184.61" cy="353.99" r="2.1" fill="#11955a"/>
<circle cx="203.34" cy="343.2" r="2.1" fill="#11955a"/>
<circle cx="231.44" cy="329.53" r="2.1" fill="#11955a"/>
<circle cx="250.16" cy="321.11" r="2.1" fill="#11955a"/>
<path d="M54.6 363.82L57 368.02L52.2 368.02Z" fill="#11955a"/>
<path d="M72.23 365.94L74.63 370.14L69.83 370.14Z" fill="#11955a"/>
<path d="M100.33 365.07L102.73 369.27L97.93 369.27Z" fill="#11955a"/>
<path d="M119.06 365.07L121.46 369.27L116.66 369.27Z" fill="#11955a"/>
<path d="M137.78 363.2L140.19 367.4L135.38 367.4Z" fill="#11955a"/>
<path d="M165.88 362.39L168.28 366.59L163.48 366.59Z" fill="#11955a"/>
<path d="M184.61 359.02L187.01 363.22L182.21 363.22Z" fill="#11955a"/>
<path d="M203.34 357.08L205.74 361.28L200.94 361.28Z" fill="#11955a"/>
<path d="M231.44 352.28L233.84 356.48L229.03 356.48Z" fill="#11955a"/>
<path d="M250.16 346.29L252.56 350.49L247.76 350.49Z" fill="#11955a"/>
<path d="M54.6 224.2V380.2H251.26" stroke="#1a1a1a" stroke-width="1.35" fill="none"/>
<path d="M51.1 380.2H54.6M51.1 349H54.6M51.1 317.8H54.6M51.1 286.6H54.6M51.1 255.4H54.6M51.1 224.2H54.6M54.6 380.2V383.7M101.43 380.2V383.7M148.25 380.2V383.7M195.07 380.2V383.7M241.9 380.2V383.7" stroke="#1a1a1a" stroke-width="1.35" fill="none"/>
<text class="tn" x="49.5" y="383.2" font-size="8.3" text-anchor="end" >0</text>
<text class="tn" x="49.5" y="352" font-size="8.3" text-anchor="end" >500</text>
<text class="tn" x="49.5" y="320.8" font-size="8.3" text-anchor="end" >1,000</text>
<text class="tn" x="49.5" y="289.6" font-size="8.3" text-anchor="end" >1,500</text>
<text class="tn" x="49.5" y="258.4" font-size="8.3" text-anchor="end" >2,000</text>
<text class="tn" x="49.5" y="227.2" font-size="8.3" text-anchor="end" >2,500</text>
<text class="tn" x="54.6" y="392.8" font-size="8.3" text-anchor="middle" >0</text>
<text class="tn" x="101.43" y="392.8" font-size="8.3" text-anchor="middle" >5</text>
<text class="tn" x="148.25" y="392.8" font-size="8.3" text-anchor="middle" >10</text>
<text class="tn" x="195.07" y="392.8" font-size="8.3" text-anchor="middle" >15</text>
<text class="tn" x="241.9" y="392.8" font-size="8.3" text-anchor="middle" >20</text>
<text class="tb" x="150.25" y="404.9" font-size="8.5" text-anchor="middle" >Time (d)</text>
<text class="tr" transform="translate(24.2 302.2) rotate(-90)" font-size="8.6" text-anchor="middle">Tumor volume (mm<tspan font-size="5.5" dy="-3">3</tspan><tspan dy="3">)</tspan></text>
<path d="M61.5 232.8H80" stroke="#2a6a4c" stroke-width="1.2" stroke-dasharray="1.1 1.2"/>
<path d="M70.9 230.1L73.6 232.8L70.9 235.5L68.2 232.8Z" fill="#11955a"/>
<text class="tb" x="84.6" y="234.2" font-size="8.5" text-anchor="start" >Vehicle</text>
<path d="M61.5 244.1H80" stroke="#1b7a4e" stroke-width="1.35"/>
<rect x="68.8" y="242" width="4.2" height="4.2" fill="#11955a"/>
<text class="tb" x="84.6" y="246.6" font-size="8.5" text-anchor="start" >7.5 mg/kg Q3W</text>
<path d="M61.5 255.4H80" stroke="#1b7a4e" stroke-width="1.35"/>
<circle cx="70.9" cy="255.4" r="2.1" fill="#11955a"/>
<text class="tb" x="84.6" y="257.9" font-size="8.5" text-anchor="start" >3.75 mg/kg Q2W</text>
<path d="M61.5 266.7H80" stroke="#1b7a4e" stroke-width="1.35"/>
<path d="M70.9 264.3L73.3 268.5L68.5 268.5Z" fill="#11955a"/>
<text class="tb" x="84.6" y="269.2" font-size="8.5" text-anchor="start" >2.5 mg/kg Q1W</text>
<clipPath id="cpB"><rect x="309.8" y="204.6" width="210" height="176.2"/></clipPath>
<polyline points="309.8,256.19 309.8,256.22 309.81,256.32 309.81,256.5 309.83,256.76 309.84,257.11 309.86,257.53 309.89,258.02 309.92,258.57 309.96,259.15 310,259.76 310.04,260.39 310.09,261.01 310.15,261.63 310.21,262.23 310.28,262.81 310.35,263.37 310.43,263.91 310.52,264.43 310.61,264.94 310.71,265.43 310.81,265.92 310.92,266.4 311.03,266.89 311.15,267.37 311.28,267.86 311.41,268.34 311.55,268.82 311.7,269.31 311.85,269.78 312.01,270.26 312.17,270.72 312.35,271.18 312.53,271.63 312.71,272.06 312.9,272.48 313.1,272.89 313.31,273.28 313.52,273.65 313.74,274 313.96,274.34 314.19,274.66 314.43,274.95 314.68,275.24 314.93,275.5 315.19,275.75 315.46,275.98 315.73,276.19 316.01,276.39 316.3,276.58 316.6,276.75 316.9,276.92 317.21,277.07 317.53,277.22 317.85,277.36 318.18,277.49 318.52,277.61 318.87,277.73 319.22,277.85 319.58,277.96 319.95,278.07 320.33,278.18 320.71,278.28 321.1,278.39 321.5,278.49 321.91,278.6 322.32,278.7 322.74,278.8 323.17,278.91 323.61,279.01 324.05,279.12 324.5,279.23 324.96,279.34 325.43,279.45 325.91,279.56 326.39,279.67 326.88,279.78 327.38,279.9 327.88,280.02 328.4,280.14 328.92,280.26 329.45,280.38 329.99,280.5 330.53,280.63 331.09,280.76 331.65,280.89 332.22,281.02 332.79,281.15 333.38,281.29 333.97,281.43 334.57,281.56 335.18,281.71 335.8,281.85 336.43,281.99 337.06,282.14 337.7,282.29 338.35,282.44 339.01,282.59 339.68,282.74 340.35,282.9 341.04,283.06 341.73,283.22 342.43,283.38 343.14,283.54 343.85,283.71 344.58,283.87 345.31,284.04 346.05,284.21 346.8,284.39 347.56,284.56 348.32,284.74 349.1,284.92 349.88,285.1 350.67,285.28 351.47,285.47 352.28,285.65 353.1,285.84 353.92,286.03 354.76,286.23 355.6,286.42 356.45,286.62 357.31,286.82 358.18,287.02 359.06,287.22 359.94,287.42 360.83,287.63 361.74,287.84 362.65,288.05 363.57,288.26 364.5,288.48 365.43,288.69 366.38,288.91 367.33,289.13 368.3,289.35 369.27,289.58 370.25,289.8 371.24,290.03 372.24,290.26 373.24,290.5 374.26,290.73 375.28,290.97 375.29,290.97 375.29,290.97 375.29,290.97 375.3,290.97 375.31,290.97 375.33,290.98 375.35,290.98 375.37,290.99 375.41,291 375.44,291 375.48,291.01 375.53,291.02 375.58,291.04 375.64,291.05 375.7,291.06 375.77,291.08 375.84,291.1 375.92,291.11 376,291.13 376.09,291.15 376.19,291.18 376.29,291.2 376.4,291.23 376.52,291.25 376.64,291.28 376.76,291.31 376.9,291.34 377.04,291.37 377.18,291.41 377.34,291.44 377.49,291.48 377.66,291.52 377.83,291.56 378.01,291.6 378.2,291.64 378.39,291.68 378.59,291.73 378.79,291.78 379,291.83 379.22,291.88 379.45,291.93 379.68,291.98 379.92,292.04 380.16,292.09 380.42,292.15 380.68,292.21 380.94,292.27 381.22,292.34 381.5,292.4 381.79,292.47 382.08,292.54 382.39,292.61 382.7,292.68 383.01,292.75 383.34,292.83 383.67,292.9 384.01,292.98 384.35,293.06 384.71,293.14 385.07,293.23 385.44,293.31 385.81,293.4 386.2,293.49 386.59,293.58 386.99,293.67 387.39,293.76 387.81,293.86 388.23,293.96 388.66,294.06 389.09,294.16 389.54,294.26 389.99,294.36 390.45,294.47 390.92,294.58 391.39,294.69 391.87,294.8 392.36,294.91 392.86,295.03 393.37,295.14 393.88,295.26 394.4,295.38 394.93,295.51 395.47,295.63 396.02,295.76 396.57,295.88 397.13,296.01 397.7,296.14 398.28,296.28 398.86,296.41 399.46,296.55 400.06,296.69 400.67,296.83 401.29,296.97 401.91,297.12 402.55,297.26 403.19,297.41 403.84,297.56 404.5,297.71 405.16,297.87 405.84,298.02 406.52,298.18 407.21,298.34 407.91,298.5 408.62,298.67 409.34,298.83 410.06,299 410.79,299.17 411.53,299.34 412.28,299.51 413.04,299.69 413.81,299.86 414.58,300.04 415.37,300.22 416.16,300.41 416.96,300.59 417.77,300.78 418.58,300.97 419.41,301.16 420.24,301.35 421.08,301.55 421.94,301.74 422.8,301.94 423.66,302.14 424.54,302.34 425.43,302.55 426.32,302.75 427.22,302.96 428.13,303.17 429.05,303.39 429.98,303.6 430.92,303.82 431.86,304.04 432.82,304.26 433.78,304.48 434.75,304.7 435.73,304.93 436.72,305.16 437.72,305.39 438.73,305.62 439.75,305.86 440.77,306.09 440.77,306.09 440.77,306.09 440.78,306.09 440.78,306.1 440.8,306.1 440.81,306.1 440.83,306.11 440.86,306.11 440.89,306.12 440.92,306.13 440.96,306.14 441.01,306.15 441.06,306.16 441.11,306.17 441.17,306.18 441.24,306.2 441.31,306.22 441.39,306.23 441.47,306.25 441.56,306.27 441.65,306.3 441.75,306.32 441.85,306.34 441.97,306.37 442.08,306.4 442.21,306.42 442.34,306.45 442.47,306.49 442.61,306.52 442.76,306.55 442.92,306.59 443.08,306.63 443.24,306.66 443.42,306.7 443.6,306.75 443.78,306.79 443.98,306.83 444.17,306.88 444.38,306.93 444.59,306.98 444.81,307.03 445.04,307.08 445.27,307.13 445.51,307.19 445.76,307.24 446.01,307.3 446.27,307.36 446.53,307.42 446.81,307.49 447.09,307.55 447.37,307.62 447.67,307.69 447.97,307.76 448.28,307.83 448.59,307.9 448.91,307.97 449.24,308.05 449.58,308.13 449.92,308.21 450.27,308.29 450.63,308.37 451,308.45 451.37,308.54 451.75,308.63 452.14,308.72 452.53,308.81 452.93,308.9 453.34,309 453.76,309.09 454.18,309.19 454.61,309.29 455.05,309.39 455.5,309.49 455.95,309.6 456.42,309.71 456.88,309.81 457.36,309.92 457.84,310.04 458.34,310.15 458.84,310.26 459.34,310.38 459.86,310.5 460.38,310.62 460.91,310.74 461.45,310.87 461.99,310.99 462.55,311.12 463.11,311.25 463.68,311.38 464.25,311.52 464.84,311.65 465.43,311.79 466.03,311.93 466.64,312.07 467.25,312.21 467.88,312.35 468.51,312.5 469.15,312.65 469.79,312.8 470.45,312.95 471.11,313.1 471.79,313.26 472.47,313.41 473.15,313.57 473.85,313.73 474.55,313.89 475.26,314.06 475.98,314.23 476.71,314.39 477.45,314.56 478.19,314.74 478.95,314.91 479.71,315.09 480.47,315.26 481.25,315.44 482.04,315.62 482.83,315.81 483.63,315.99 484.44,316.18 485.26,316.37 486.09,316.56 486.92,316.75 487.77,316.95 488.62,317.14 489.48,317.34 490.35,317.54 491.22,317.75 492.11,317.95 493,318.16 493.9,318.36 494.81,318.57 495.73,318.79 496.66,319 497.6,319.22 498.54,319.44 499.49,319.66 500.45,319.88 501.42,320.1 502.4,320.33 503.39,320.56 504.38,320.79" fill="none" stroke="#23835a" stroke-width="1.6" clip-path="url(#cpB)"/>
<polyline points="309.8,267.98 309.8,268.01 309.81,268.11 309.81,268.29 309.83,268.56 309.84,268.9 309.86,269.33 309.89,269.82 309.92,270.36 309.96,270.94 310,271.56 310.04,272.18 310.09,272.81 310.15,273.43 310.21,274.03 310.28,274.61 310.35,275.17 310.43,275.7 310.52,276.22 310.61,276.73 310.71,277.22 310.81,277.71 310.92,278.2 311.03,278.68 311.15,279.16 311.28,279.65 311.41,280.13 311.55,280.62 311.7,281.1 311.85,281.58 312.01,282.05 312.17,282.52 312.35,282.97 312.53,283.42 312.71,283.86 312.9,284.28 313.1,284.68 313.31,285.07 313.52,285.44 313.74,285.8 313.96,286.13 314.19,286.45 314.43,286.75 314.68,287.03 314.93,287.29 315.19,287.54 315.46,287.77 315.73,287.98 316.01,288.18 316.3,288.37 316.6,288.55 316.9,288.71 317.21,288.87 317.53,289.01 317.85,289.15 318.18,289.28 318.52,289.41 318.87,289.53 319.22,289.64 319.58,289.75 319.95,289.86 320.33,289.97 320.71,290.08 321.1,290.18 321.5,290.29 321.91,290.39 322.32,290.49 322.74,290.6 323.17,290.7 323.61,290.81 324.05,290.91 324.5,291.02 324.96,291.13 325.43,291.24 325.91,291.35 326.39,291.46 326.88,291.58 327.38,291.69 327.88,291.81 328.4,291.93 328.92,292.05 329.45,292.17 329.99,292.3 330.53,292.42 331.09,292.55 331.65,292.68 332.22,292.81 332.79,292.95 333.38,293.08 333.97,293.22 334.57,293.36 335.18,293.5 335.8,293.64 336.43,293.79 337.06,293.93 337.7,294.08 338.35,294.23 339.01,294.38 339.68,294.54 340.35,294.69 341.04,294.85 341.73,295.01 342.43,295.17 343.14,295.33 343.85,295.5 344.58,295.67 345.31,295.84 346.05,296.01 346.8,296.18 347.56,296.36 348.32,296.53 349.1,296.71 349.88,296.89 350.67,297.08 351.47,297.26 352.28,297.45 353.1,297.64 353.92,297.83 354.76,298.02 355.6,298.21 356.45,298.41 357.31,298.61 358.18,298.81 359.06,299.01 359.94,299.22 360.83,299.42 361.74,299.63 362.65,299.84 363.57,300.05 364.5,300.27 365.43,300.48 366.38,300.7 367.33,300.92 368.3,301.15 369.27,301.37 370.25,301.6 371.24,301.83 372.24,302.06 373.24,302.29 374.26,302.52 375.28,302.76 375.29,302.76 375.29,302.76 375.29,302.76 375.3,302.76 375.31,302.77 375.33,302.77 375.35,302.77 375.37,302.78 375.41,302.79 375.44,302.8 375.48,302.81 375.53,302.82 375.58,302.83 375.64,302.84 375.7,302.86 375.77,302.87 375.84,302.89 375.92,302.91 376,302.93 376.09,302.95 376.19,302.97 376.29,302.99 376.4,303.02 376.52,303.04 376.64,303.07 376.76,303.1 376.9,303.13 377.04,303.16 377.18,303.2 377.34,303.23 377.49,303.27 377.66,303.31 377.83,303.35 378.01,303.39 378.2,303.43 378.39,303.48 378.59,303.52 378.79,303.57 379,303.62 379.22,303.67 379.45,303.72 379.68,303.77 379.92,303.83 380.16,303.89 380.42,303.95 380.68,304.01 380.94,304.07 381.22,304.13 381.5,304.2 381.79,304.26 382.08,304.33 382.39,304.4 382.7,304.47 383.01,304.55 383.34,304.62 383.67,304.7 384.01,304.77 384.35,304.85 384.71,304.94 385.07,305.02 385.44,305.11 385.81,305.19 386.2,305.28 386.59,305.37 386.99,305.46 387.39,305.56 387.81,305.65 388.23,305.75 388.66,305.85 389.09,305.95 389.54,306.05 389.99,306.16 390.45,306.26 390.92,306.37 391.39,306.48 391.87,306.59 392.36,306.7 392.86,306.82 393.37,306.94 393.88,307.06 394.4,307.18 394.93,307.3 395.47,307.42 396.02,307.55 396.57,307.68 397.13,307.81 397.7,307.94 398.28,308.07 398.86,308.21 399.46,308.34 400.06,308.48 400.67,308.62 401.29,308.77 401.91,308.91 402.55,309.06 403.19,309.2 403.84,309.36 404.5,309.51 405.16,309.66 405.84,309.82 406.52,309.97 407.21,310.13 407.91,310.3 408.62,310.46 409.34,310.62 410.06,310.79 410.79,310.96 411.53,311.13 412.28,311.31 413.04,311.48 413.81,311.66 414.58,311.84 415.37,312.02 416.16,312.2 416.96,312.39 417.77,312.57 418.58,312.76 419.41,312.95 420.24,313.14 421.08,313.34 421.94,313.53 422.8,313.73 423.66,313.93 424.54,314.14 425.43,314.34 426.32,314.55 427.22,314.76 428.13,314.97 429.05,315.18 429.98,315.39 430.92,315.61 431.86,315.83 432.82,316.05 433.78,316.27 434.75,316.5 435.73,316.72 436.72,316.95 437.72,317.18 438.73,317.41 439.75,317.65 440.77,317.89 440.77,267.1 440.77,267.12 440.78,267.22 440.78,267.38 440.8,267.63 440.81,267.95 440.83,268.34 440.86,268.79 440.89,269.29 440.92,269.83 440.96,270.4 441.01,270.98 441.06,271.56 441.11,272.13 441.17,272.69 441.24,273.22 441.31,273.74 441.39,274.24 441.47,274.71 441.56,275.18 441.65,275.63 441.75,276.08 441.85,276.52 441.97,276.95 442.08,277.39 442.21,277.83 442.34,278.26 442.47,278.7 442.61,279.13 442.76,279.56 442.92,279.98 443.08,280.4 443.24,280.81 443.42,281.21 443.6,281.6 443.78,281.98 443.98,282.35 444.17,282.7 444.38,283.03 444.59,283.35 444.81,283.66 445.04,283.94 445.27,284.22 445.51,284.47 445.76,284.71 446.01,284.94 446.27,285.15 446.53,285.35 446.81,285.54 447.09,285.72 447.37,285.88 447.67,286.04 447.97,286.18 448.28,286.32 448.59,286.45 448.91,286.58 449.24,286.7 449.58,286.81 449.92,286.93 450.27,287.03 450.63,287.14 451,287.25 451.37,287.35 451.75,287.45 452.14,287.55 452.53,287.65 452.93,287.75 453.34,287.85 453.76,287.96 454.18,288.06 454.61,288.16 455.05,288.27 455.5,288.37 455.95,288.48 456.42,288.59 456.88,288.7 457.36,288.81 457.84,288.92 458.34,289.03 458.84,289.15 459.34,289.27 459.86,289.39 460.38,289.51 460.91,289.63 461.45,289.75 461.99,289.88 462.55,290.01 463.11,290.14 463.68,290.27 464.25,290.4 464.84,290.54 465.43,290.67 466.03,290.81 466.64,290.95 467.25,291.1 467.88,291.24 468.51,291.39 469.15,291.53 469.79,291.68 470.45,291.83 471.11,291.99 471.79,292.14 472.47,292.3 473.15,292.46 473.85,292.62 474.55,292.78 475.26,292.95 475.98,293.11 476.71,293.28 477.45,293.45 478.19,293.62 478.95,293.8 479.71,293.97 480.47,294.15 481.25,294.33 482.04,294.51 482.83,294.69 483.63,294.88 484.44,295.07 485.26,295.25 486.09,295.45 486.92,295.64 487.77,295.83 488.62,296.03 489.48,296.23 490.35,296.43 491.22,296.63 492.11,296.84 493,297.04 493.9,297.25 494.81,297.46 495.73,297.67 496.66,297.89 497.6,298.1 498.54,298.32 499.49,298.54 500.45,298.76 501.42,298.99 502.4,299.21 503.39,299.44 504.38,299.67" fill="none" stroke="#23835a" stroke-width="1.6" stroke-dasharray="4.2 3.6" clip-path="url(#cpB)"/>
<polyline points="309.8,274.88 309.8,274.91 309.81,275.01 309.81,275.19 309.83,275.45 309.84,275.8 309.86,276.22 309.89,276.71 309.92,277.26 309.96,277.84 310,278.45 310.04,279.08 310.09,279.71 310.15,280.32 310.21,280.92 310.28,281.51 310.35,282.06 310.43,282.6 310.52,283.12 310.61,283.63 310.71,284.12 310.81,284.61 310.92,285.1 311.03,285.58 311.15,286.06 311.28,286.55 311.41,287.03 311.55,287.51 311.7,288 311.85,288.48 312.01,288.95 312.17,289.42 312.35,289.87 312.53,290.32 312.71,290.75 312.9,291.17 313.1,291.58 313.31,291.97 313.52,292.34 313.74,292.69 313.96,293.03 314.19,293.35 314.43,293.65 314.68,293.93 314.93,294.19 315.19,294.44 315.46,294.67 315.73,294.88 316.01,295.08 316.3,295.27 316.6,295.45 316.9,295.61 317.21,295.76 317.53,295.91 317.85,296.05 318.18,296.18 318.52,296.3 318.87,296.42 319.22,296.54 319.58,296.65 319.95,296.76 320.33,296.87 320.71,296.98 321.1,297.08 321.5,297.18 321.91,297.29 322.32,297.39 322.74,297.5 323.17,297.6 323.61,297.71 324.05,297.81 324.5,297.92 324.96,298.03 325.43,298.14 325.91,298.25 326.39,298.36 326.88,298.47 327.38,298.59 327.88,298.71 328.4,298.83 328.92,298.95 329.45,299.07 329.99,299.2 330.53,299.32 331.09,299.45 331.65,299.58 332.22,299.71 332.79,299.84 333.38,299.98 333.97,300.12 334.57,300.26 335.18,300.4 335.8,300.54 336.43,300.68 337.06,300.83 337.7,300.98 338.35,301.13 339.01,301.28 339.68,301.43 340.35,301.59 341.04,301.75 341.73,301.91 342.43,302.07 343.14,302.23 343.85,302.4 344.58,302.57 345.31,302.73 346.05,302.91 346.8,303.08 347.56,303.25 348.32,303.43 349.1,303.61 349.88,303.79 350.67,303.97 351.47,304.16 352.28,304.35 353.1,304.53 353.92,304.72 354.76,304.92 355.6,305.11 356.45,305.31 357.31,305.51 358.18,305.71 359.06,305.91 359.94,306.11 360.83,306.32 361.74,306.53 362.65,306.74 363.57,306.95 364.5,307.17 365.43,307.38 366.38,307.6 367.33,307.82 368.3,308.04 369.27,308.27 370.25,308.5 371.24,308.72 372.24,308.95 373.24,309.19 374.26,309.42 375.28,309.66 375.29,272.81 375.29,272.83 375.29,272.92 375.3,273.08 375.31,273.32 375.33,273.62 375.35,274 375.37,274.42 375.41,274.9 375.44,275.41 375.48,275.94 375.53,276.48 375.58,277.02 375.64,277.54 375.7,278.06 375.77,278.55 375.84,279.02 375.92,279.47 376,279.9 376.09,280.33 376.19,280.74 376.29,281.14 376.4,281.54 376.52,281.94 376.64,282.33 376.76,282.72 376.9,283.12 377.04,283.51 377.18,283.89 377.34,284.28 377.49,284.65 377.66,285.02 377.83,285.38 378.01,285.74 378.2,286.08 378.39,286.41 378.59,286.72 378.79,287.03 379,287.32 379.22,287.59 379.45,287.85 379.68,288.1 379.92,288.33 380.16,288.56 380.42,288.76 380.68,288.96 380.94,289.14 381.22,289.31 381.5,289.48 381.79,289.63 382.08,289.78 382.39,289.91 382.7,290.04 383.01,290.17 383.34,290.29 383.67,290.4 384.01,290.52 384.35,290.62 384.71,290.73 385.07,290.83 385.44,290.94 385.81,291.04 386.2,291.14 386.59,291.24 386.99,291.34 387.39,291.44 387.81,291.54 388.23,291.64 388.66,291.75 389.09,291.85 389.54,291.96 389.99,292.06 390.45,292.17 390.92,292.28 391.39,292.39 391.87,292.5 392.36,292.62 392.86,292.73 393.37,292.85 393.88,292.97 394.4,293.09 394.93,293.21 395.47,293.34 396.02,293.46 396.57,293.59 397.13,293.72 397.7,293.85 398.28,293.99 398.86,294.12 399.46,294.26 400.06,294.4 400.67,294.54 401.29,294.68 401.91,294.82 402.55,294.97 403.19,295.12 403.84,295.27 404.5,295.42 405.16,295.58 405.84,295.73 406.52,295.89 407.21,296.05 407.91,296.21 408.62,296.37 409.34,296.54 410.06,296.71 410.79,296.88 411.53,297.05 412.28,297.22 413.04,297.4 413.81,297.57 414.58,297.75 415.37,297.93 416.16,298.12 416.96,298.3 417.77,298.49 418.58,298.68 419.41,298.87 420.24,299.06 421.08,299.25 421.94,299.45 422.8,299.65 423.66,299.85 424.54,300.05 425.43,300.26 426.32,300.46 427.22,300.67 428.13,300.88 429.05,301.09 429.98,301.31 430.92,301.52 431.86,301.74 432.82,301.96 433.78,302.19 434.75,302.41 435.73,302.64 436.72,302.87 437.72,303.1 438.73,303.33 439.75,303.56 440.77,303.8 440.77,272.02 440.77,272.05 440.78,272.13 440.78,272.28 440.8,272.5 440.81,272.78 440.83,273.13 440.86,273.53 440.89,273.97 440.92,274.44 440.96,274.94 441.01,275.44 441.06,275.94 441.11,276.44 441.17,276.92 441.24,277.38 441.31,277.82 441.39,278.24 441.47,278.65 441.56,279.04 441.65,279.42 441.75,279.79 441.85,280.16 441.97,280.53 442.08,280.89 442.21,281.25 442.34,281.61 442.47,281.97 442.61,282.32 442.76,282.68 442.92,283.02 443.08,283.36 443.24,283.7 443.42,284.02 443.6,284.33 443.78,284.64 443.98,284.93 444.17,285.21 444.38,285.48 444.59,285.74 444.81,285.99 445.04,286.22 445.27,286.44 445.51,286.65 445.76,286.84 446.01,287.03 446.27,287.2 446.53,287.37 446.81,287.52 447.09,287.67 447.37,287.81 447.67,287.95 447.97,288.07 448.28,288.19 448.59,288.31 448.91,288.42 449.24,288.53 449.58,288.64 449.92,288.74 450.27,288.84 450.63,288.94 451,289.04 451.37,289.14 451.75,289.24 452.14,289.34 452.53,289.44 452.93,289.53 453.34,289.63 453.76,289.73 454.18,289.84 454.61,289.94 455.05,290.04 455.5,290.15 455.95,290.25 456.42,290.36 456.88,290.47 457.36,290.58 457.84,290.69 458.34,290.81 458.84,290.92 459.34,291.04 459.86,291.16 460.38,291.28 460.91,291.4 461.45,291.53 461.99,291.65 462.55,291.78 463.11,291.91 463.68,292.04 464.25,292.17 464.84,292.31 465.43,292.45 466.03,292.58 466.64,292.72 467.25,292.87 467.88,293.01 468.51,293.16 469.15,293.3 469.79,293.45 470.45,293.61 471.11,293.76 471.79,293.91 472.47,294.07 473.15,294.23 473.85,294.39 474.55,294.55 475.26,294.72 475.98,294.88 476.71,295.05 477.45,295.22 478.19,295.39 478.95,295.57 479.71,295.74 480.47,295.92 481.25,296.1 482.04,296.28 482.83,296.47 483.63,296.65 484.44,296.84 485.26,297.03 486.09,297.22 486.92,297.41 487.77,297.61 488.62,297.8 489.48,298 490.35,298.2 491.22,298.4 492.11,298.61 493,298.81 493.9,299.02 494.81,299.23 495.73,299.45 496.66,299.66 497.6,299.88 498.54,300.09 499.49,300.31 500.45,300.54 501.42,300.76 502.4,300.99 503.39,301.21 504.38,301.44" fill="none" stroke="#23835a" stroke-width="1.3" stroke-dasharray="1.1 1.3" clip-path="url(#cpB)"/>
<path d="M309.8 224.6V381.3H497.7" stroke="#1a1a1a" stroke-width="1.35" fill="none"/>
<path d="M306.3 224.6H309.8M306.3 263.77H309.8M306.3 302.95H309.8M306.3 342.12H309.8M306.3 381.3H309.8M309.8 381.3V384.8M356.77 381.3V384.8M403.75 381.3V384.8M450.73 381.3V384.8M497.7 381.3V384.8" stroke="#1a1a1a" stroke-width="1.35" fill="none"/>
<text class="tn" x="305.1" y="227.6" font-size="8.3" text-anchor="end" >1,000</text>
<text class="tn" x="305.1" y="266.77" font-size="8.3" text-anchor="end" >100</text>
<text class="tn" x="305.1" y="305.95" font-size="8.3" text-anchor="end" >10</text>
<text class="tn" x="305.1" y="345.12" font-size="8.3" text-anchor="end" >1</text>
<text class="tn" x="305.1" y="384.3" font-size="8.3" text-anchor="end" >0</text>
<text class="tn" x="309.8" y="393.9" font-size="8.3" text-anchor="middle" >0</text>
<text class="tn" x="356.77" y="393.9" font-size="8.3" text-anchor="middle" >5</text>
<text class="tn" x="403.75" y="393.9" font-size="8.3" text-anchor="middle" >10</text>
<text class="tn" x="450.73" y="393.9" font-size="8.3" text-anchor="middle" >15</text>
<text class="tn" x="497.7" y="393.9" font-size="8.3" text-anchor="middle" >20</text>
<text class="tb" x="405.75" y="406" font-size="8.5" text-anchor="middle" >Time (d)</text>
<text class="tr" transform="translate(279.2 302.95) rotate(-90)" font-size="8.65" text-anchor="middle">Serum concentration (µg/mL)</text>
<path d="M316.9 232.1H335.4" stroke="#23835a" stroke-width="1.6"/>
<text class="tb" x="339.3" y="235.1" font-size="8.5" text-anchor="start" >7.5 mg/kg Q3W</text>
<path d="M316.9 243.7H335.4" stroke="#23835a" stroke-width="1.6" stroke-dasharray="4.2 3.6"/>
<text class="tb" x="339.3" y="246.7" font-size="8.5" text-anchor="start" >3.75 mg/kg Q2W</text>
<path d="M316.9 255.3H335.4" stroke="#23835a" stroke-width="1.3" stroke-dasharray="1.1 1.3"/>
<text class="tb" x="339.3" y="258.3" font-size="8.5" text-anchor="start" >2.5 mg/kg Q1W</text>
<text class="tb" x="12.2" y="419.6" font-size="17" text-anchor="start" >C</text>
<path d="M55.1 565.76V567.01M54 565.76H56.2M54 567.01H56.2" stroke="#8190ab" stroke-width="0.9" fill="none"/>
<path d="M73.33 563.88V565.76M72.23 563.88H74.43M72.23 565.76H74.43" stroke="#8190ab" stroke-width="0.9" fill="none"/>
<path d="M101.43 559.44V562.57M100.33 559.44H102.53M100.33 562.57H102.53" stroke="#8190ab" stroke-width="0.9" fill="none"/>
<path d="M120.16 546.93V551.93M119.06 546.93H121.25M119.06 551.93H121.25" stroke="#8190ab" stroke-width="0.9" fill="none"/>
<path d="M138.88 538.67V545.55M137.78 538.67H139.98M137.78 545.55H139.98" stroke="#8190ab" stroke-width="0.9" fill="none"/>
<path d="M166.98 517.4V532.42M165.88 517.4H168.08M165.88 532.42H168.08" stroke="#8190ab" stroke-width="0.9" fill="none"/>
<path d="M185.71 500.76V519.53M184.61 500.76H186.81M184.61 519.53H186.81" stroke="#8190ab" stroke-width="0.9" fill="none"/>
<path d="M204.44 486V509.77M203.34 486H205.54M203.34 509.77H205.54" stroke="#8190ab" stroke-width="0.9" fill="none"/>
<path d="M232.53 453.03V485.81M231.44 453.03H233.63M231.44 485.81H233.63" stroke="#8190ab" stroke-width="0.9" fill="none"/>
<path d="M251.26 439.83V473.61M250.16 439.83H252.36M250.16 473.61H252.36" stroke="#8190ab" stroke-width="0.9" fill="none"/>
<path d="M55.1 567.01V568.26M54 567.01H56.2M54 568.26H56.2" stroke="#8190ab" stroke-width="0.9" fill="none"/>
<path d="M73.33 567.39V569.26M72.23 567.39H74.43M72.23 569.26H74.43" stroke="#8190ab" stroke-width="0.9" fill="none"/>
<path d="M101.43 568.39V570.89M100.33 568.39H102.53M100.33 570.89H102.53" stroke="#8190ab" stroke-width="0.9" fill="none"/>
<path d="M120.16 563.95V567.7M119.06 563.95H121.25M119.06 567.7H121.25" stroke="#8190ab" stroke-width="0.9" fill="none"/>
<path d="M138.88 563.95V567.7M137.78 563.95H139.98M137.78 567.7H139.98" stroke="#8190ab" stroke-width="0.9" fill="none"/>
<path d="M166.98 563.2V569.45M165.88 563.2H168.08M165.88 569.45H168.08" stroke="#8190ab" stroke-width="0.9" fill="none"/>
<path d="M185.71 557.19V565.95M184.61 557.19H186.81M184.61 565.95H186.81" stroke="#8190ab" stroke-width="0.9" fill="none"/>
<path d="M204.44 554V565.26M203.34 554H205.54M203.34 565.26H205.54" stroke="#8190ab" stroke-width="0.9" fill="none"/>
<path d="M232.53 543.55V562.32M231.44 543.55H233.63M231.44 562.32H233.63" stroke="#8190ab" stroke-width="0.9" fill="none"/>
<path d="M251.26 536.36V561.38M250.16 536.36H252.36M250.16 561.38H252.36" stroke="#8190ab" stroke-width="0.9" fill="none"/>
<path d="M55.1 567.01V568.26M54 567.01H56.2M54 568.26H56.2" stroke="#8190ab" stroke-width="0.9" fill="none"/>
<path d="M73.33 567.39V569.26M72.23 567.39H74.43M72.23 569.26H74.43" stroke="#8190ab" stroke-width="0.9" fill="none"/>
<path d="M101.43 568.39V570.89M100.33 568.39H102.53M100.33 570.89H102.53" stroke="#8190ab" stroke-width="0.9" fill="none"/>
<path d="M120.16 568.07V571.2M119.06 568.07H121.25M119.06 571.2H121.25" stroke="#8190ab" stroke-width="0.9" fill="none"/>
<path d="M138.88 569.08V572.2M137.78 569.08H139.98M137.78 572.2H139.98" stroke="#8190ab" stroke-width="0.9" fill="none"/>
<path d="M166.98 566.89V574.02M165.88 566.89H168.08M165.88 574.02H168.08" stroke="#8190ab" stroke-width="0.9" fill="none"/>
<path d="M185.71 564.57V572.83M184.61 564.57H186.81M184.61 572.83H186.81" stroke="#8190ab" stroke-width="0.9" fill="none"/>
<path d="M204.44 558.25V571.64M203.34 558.25H205.54M203.34 571.64H205.54" stroke="#8190ab" stroke-width="0.9" fill="none"/>
<path d="M232.53 551.18V570.45M231.44 551.18H233.63M231.44 570.45H233.63" stroke="#8190ab" stroke-width="0.9" fill="none"/>
<path d="M251.26 552.18V572.83M250.16 552.18H252.36M250.16 572.83H252.36" stroke="#8190ab" stroke-width="0.9" fill="none"/>
<path d="M55.1 567.01V568.26M54 567.01H56.2M54 568.26H56.2" stroke="#8190ab" stroke-width="0.9" fill="none"/>
<path d="M73.33 567.39V569.26M72.23 567.39H74.43M72.23 569.26H74.43" stroke="#8190ab" stroke-width="0.9" fill="none"/>
<path d="M101.43 568.39V570.89M100.33 568.39H102.53M100.33 570.89H102.53" stroke="#8190ab" stroke-width="0.9" fill="none"/>
<path d="M120.16 565.13V568.89M119.06 565.13H121.25M119.06 568.89H121.25" stroke="#8190ab" stroke-width="0.9" fill="none"/>
<path d="M138.88 564.51V568.26M137.78 564.51H139.98M137.78 568.26H139.98" stroke="#8190ab" stroke-width="0.9" fill="none"/>
<path d="M166.98 556.75V569.76M165.88 556.75H168.08M165.88 569.76H168.08" stroke="#8190ab" stroke-width="0.9" fill="none"/>
<path d="M185.71 552.43V566.82M184.61 552.43H186.81M184.61 566.82H186.81" stroke="#8190ab" stroke-width="0.9" fill="none"/>
<path d="M204.44 545.74V563.01M203.34 545.74H205.54M203.34 563.01H205.54" stroke="#8190ab" stroke-width="0.9" fill="none"/>
<path d="M232.53 526.1V557.25M231.44 526.1H233.63M231.44 557.25H233.63" stroke="#8190ab" stroke-width="0.9" fill="none"/>
<path d="M251.26 511.71V553.87M250.16 511.71H252.36M250.16 553.87H252.36" stroke="#8190ab" stroke-width="0.9" fill="none"/>
<polyline points="55.1,566.39 73.33,564.82 101.43,561.01 120.16,549.43 138.88,542.11 166.98,524.91 185.71,510.14 204.44,497.88 232.53,469.42 251.26,456.72" fill="none" stroke="#243f70" stroke-width="1.2" stroke-dasharray="1.1 1.2"/>
<polyline points="55.1,567.64 73.33,568.32 101.43,569.64 120.16,565.82 138.88,565.82 166.98,566.32 185.71,561.57 204.44,559.63 232.53,552.94 251.26,548.87" fill="none" stroke="#1c3f7e" stroke-width="1.35"/>
<polyline points="55.1,567.64 73.33,568.32 101.43,569.64 120.16,569.64 138.88,570.64 166.98,570.45 185.71,568.7 204.44,564.95 232.53,560.82 251.26,562.51" fill="none" stroke="#1c3f7e" stroke-width="1.35"/>
<polyline points="55.1,567.64 73.33,568.32 101.43,569.64 120.16,567.01 138.88,566.39 166.98,563.26 185.71,559.63 204.44,554.37 232.53,541.67 251.26,532.79" fill="none" stroke="#1c3f7e" stroke-width="1.35"/>
<path d="M55.1 563.69L57.8 566.39L55.1 569.09L52.4 566.39Z" fill="#174a90"/>
<path d="M73.33 562.12L76.03 564.82L73.33 567.52L70.63 564.82Z" fill="#174a90"/>
<path d="M101.43 558.31L104.13 561.01L101.43 563.71L98.73 561.01Z" fill="#174a90"/>
<path d="M120.16 546.73L122.86 549.43L120.16 552.13L117.45 549.43Z" fill="#174a90"/>
<path d="M138.88 539.41L141.58 542.11L138.88 544.81L136.19 542.11Z" fill="#174a90"/>
<path d="M166.98 522.21L169.68 524.91L166.98 527.61L164.28 524.91Z" fill="#174a90"/>
<path d="M185.71 507.44L188.41 510.14L185.71 512.84L183.01 510.14Z" fill="#174a90"/>
<path d="M204.44 495.18L207.14 497.88L204.44 500.58L201.74 497.88Z" fill="#174a90"/>
<path d="M232.53 466.72L235.23 469.42L232.53 472.12L229.84 469.42Z" fill="#174a90"/>
<path d="M251.26 454.02L253.96 456.72L251.26 459.42L248.56 456.72Z" fill="#174a90"/>
<rect x="53" y="565.54" width="4.2" height="4.2" fill="#174a90"/>
<rect x="71.23" y="566.22" width="4.2" height="4.2" fill="#174a90"/>
<rect x="99.33" y="567.54" width="4.2" height="4.2" fill="#174a90"/>
<rect x="118.06" y="563.72" width="4.2" height="4.2" fill="#174a90"/>
<rect x="136.78" y="563.72" width="4.2" height="4.2" fill="#174a90"/>
<rect x="164.88" y="564.22" width="4.2" height="4.2" fill="#174a90"/>
<rect x="183.61" y="559.47" width="4.2" height="4.2" fill="#174a90"/>
<rect x="202.34" y="557.53" width="4.2" height="4.2" fill="#174a90"/>
<rect x="230.44" y="550.84" width="4.2" height="4.2" fill="#174a90"/>
<rect x="249.16" y="546.77" width="4.2" height="4.2" fill="#174a90"/>
<circle cx="55.1" cy="567.64" r="2.1" fill="#174a90"/>
<circle cx="73.33" cy="568.32" r="2.1" fill="#174a90"/>
<circle cx="101.43" cy="569.64" r="2.1" fill="#174a90"/>
<circle cx="120.16" cy="569.64" r="2.1" fill="#174a90"/>
<circle cx="138.88" cy="570.64" r="2.1" fill="#174a90"/>
<circle cx="166.98" cy="570.45" r="2.1" fill="#174a90"/>
<circle cx="185.71" cy="568.7" r="2.1" fill="#174a90"/>
<circle cx="204.44" cy="564.95" r="2.1" fill="#174a90"/>
<circle cx="232.53" cy="560.82" r="2.1" fill="#174a90"/>
<circle cx="251.26" cy="562.51" r="2.1" fill="#174a90"/>
<path d="M55.1 565.24L57.5 569.44L52.7 569.44Z" fill="#174a90"/>
<path d="M73.33 565.92L75.73 570.12L70.93 570.12Z" fill="#174a90"/>
<path d="M101.43 567.24L103.83 571.44L99.03 571.44Z" fill="#174a90"/>
<path d="M120.16 564.61L122.56 568.81L117.75 568.81Z" fill="#174a90"/>
<path d="M138.88 563.99L141.28 568.19L136.48 568.19Z" fill="#174a90"/>
<path d="M166.98 560.86L169.38 565.06L164.58 565.06Z" fill="#174a90"/>
<path d="M185.71 557.23L188.11 561.43L183.31 561.43Z" fill="#174a90"/>
<path d="M204.44 551.97L206.84 556.17L202.04 556.17Z" fill="#174a90"/>
<path d="M232.53 539.27L234.94 543.47L230.13 543.47Z" fill="#174a90"/>
<path d="M251.26 530.39L253.66 534.59L248.86 534.59Z" fill="#174a90"/>
<path d="M55.1 425V581.4H251.76" stroke="#1a1a1a" stroke-width="1.35" fill="none"/>
<path d="M51.6 581.4H55.1M51.6 550.12H55.1M51.6 518.84H55.1M51.6 487.56H55.1M51.6 456.28H55.1M51.6 425H55.1M55.1 581.4V584.9M101.93 581.4V584.9M148.75 581.4V584.9M195.57 581.4V584.9M242.4 581.4V584.9" stroke="#1a1a1a" stroke-width="1.35" fill="none"/>
<text class="tn" x="50" y="584.4" font-size="8.3" text-anchor="end" >0</text>
<text class="tn" x="50" y="553.12" font-size="8.3" text-anchor="end" >500</text>
<text class="tn" x="50" y="521.84" font-size="8.3" text-anchor="end" >1,000</text>
<text class="tn" x="50" y="490.56" font-size="8.3" text-anchor="end" >1,500</text>
<text class="tn" x="50" y="459.28" font-size="8.3" text-anchor="end" >2,000</text>
<text class="tn" x="50" y="428" font-size="8.3" text-anchor="end" >2,500</text>
<text class="tn" x="55.1" y="594" font-size="8.3" text-anchor="middle" >0</text>
<text class="tn" x="101.93" y="594" font-size="8.3" text-anchor="middle" >5</text>
<text class="tn" x="148.75" y="594" font-size="8.3" text-anchor="middle" >10</text>
<text class="tn" x="195.57" y="594" font-size="8.3" text-anchor="middle" >15</text>
<text class="tn" x="242.4" y="594" font-size="8.3" text-anchor="middle" >20</text>
<text class="tb" x="150.75" y="606.1" font-size="8.5" text-anchor="middle" >Time (d)</text>
<text class="tr" transform="translate(24.2 503.2) rotate(-90)" font-size="8.6" text-anchor="middle">Tumor volume (mm<tspan font-size="5.5" dy="-3">3</tspan><tspan dy="3">)</tspan></text>
<path d="M61.5 433.6H80" stroke="#243f70" stroke-width="1.2" stroke-dasharray="1.1 1.2"/>
<path d="M70.9 430.9L73.6 433.6L70.9 436.3L68.2 433.6Z" fill="#174a90"/>
<text class="tb" x="84.6" y="435" font-size="8.5" text-anchor="start" >Vehicle</text>
<path d="M61.5 444.9H80" stroke="#1c3f7e" stroke-width="1.35"/>
<rect x="68.8" y="442.8" width="4.2" height="4.2" fill="#174a90"/>
<text class="tb" x="84.6" y="447.4" font-size="8.5" text-anchor="start" >30 mg/kg Q3W</text>
<path d="M61.5 456.2H80" stroke="#1c3f7e" stroke-width="1.35"/>
<circle cx="70.9" cy="456.2" r="2.1" fill="#174a90"/>
<text class="tb" x="84.6" y="458.7" font-size="8.5" text-anchor="start" >15 mg/kg Q2W</text>
<path d="M61.5 467.5H80" stroke="#1c3f7e" stroke-width="1.35"/>
<path d="M70.9 465.1L73.3 469.3L68.5 469.3Z" fill="#174a90"/>
<text class="tb" x="84.6" y="470" font-size="8.5" text-anchor="start" >10 mg/kg Q1W</text>
<clipPath id="cpC"><rect x="310" y="406" width="210" height="175.3"/></clipPath>
<polyline points="310,434.39 310,434.42 310.01,434.52 310.01,434.72 310.03,435 310.04,435.36 310.06,435.81 310.09,436.33 310.12,436.9 310.16,437.53 310.2,438.18 310.24,438.85 310.29,439.52 310.35,440.18 310.41,440.83 310.48,441.46 310.55,442.07 310.63,442.65 310.72,443.22 310.81,443.78 310.91,444.32 311.01,444.86 311.12,445.4 311.23,445.94 311.35,446.48 311.48,447.02 311.61,447.56 311.75,448.11 311.9,448.66 312.05,449.2 312.21,449.74 312.37,450.28 312.55,450.8 312.73,451.32 312.91,451.83 313.1,452.32 313.3,452.8 313.51,453.25 313.72,453.69 313.94,454.12 314.16,454.52 314.39,454.9 314.63,455.26 314.88,455.6 315.13,455.92 315.39,456.22 315.66,456.5 315.93,456.77 316.21,457.01 316.5,457.25 316.8,457.46 317.1,457.67 317.41,457.86 317.73,458.04 318.05,458.22 318.38,458.38 318.72,458.54 319.07,458.69 319.42,458.84 319.78,458.98 320.15,459.12 320.53,459.26 320.91,459.39 321.3,459.53 321.7,459.66 322.11,459.79 322.52,459.92 322.94,460.06 323.37,460.19 323.81,460.32 324.25,460.46 324.7,460.59 325.16,460.73 325.63,460.87 326.11,461.02 326.59,461.16 327.08,461.3 327.58,461.45 328.08,461.6 328.6,461.75 329.12,461.91 329.65,462.07 330.19,462.22 330.73,462.38 331.29,462.55 331.85,462.71 332.42,462.88 332.99,463.05 333.58,463.22 334.17,463.4 334.77,463.58 335.38,463.76 336,463.94 336.63,464.12 337.26,464.31 337.9,464.5 338.55,464.69 339.21,464.88 339.88,465.08 340.55,465.28 341.24,465.48 341.93,465.69 342.63,465.89 343.34,466.1 344.05,466.31 344.78,466.52 345.51,466.74 346.25,466.96 347,467.18 347.76,467.4 348.52,467.63 349.3,467.86 350.08,468.09 350.87,468.32 351.67,468.56 352.48,468.8 353.3,469.04 354.12,469.28 354.96,469.53 355.8,469.77 356.65,470.02 357.51,470.28 358.38,470.53 359.26,470.79 360.14,471.05 361.03,471.32 361.94,471.58 362.85,471.85 363.77,472.12 364.7,472.4 365.63,472.67 366.58,472.95 367.53,473.23 368.5,473.52 369.47,473.8 370.45,474.09 371.44,474.38 372.44,474.68 373.44,474.97 374.46,475.27 375.48,475.58 375.49,475.58 375.49,475.58 375.49,475.58 375.5,475.58 375.51,475.58 375.53,475.59 375.55,475.59 375.57,475.6 375.61,475.61 375.64,475.62 375.68,475.63 375.73,475.65 375.78,475.66 375.84,475.68 375.9,475.7 375.97,475.72 376.04,475.74 376.12,475.76 376.2,475.79 376.29,475.81 376.39,475.84 376.49,475.87 376.6,475.91 376.72,475.94 376.84,475.97 376.96,476.01 377.1,476.05 377.24,476.09 377.38,476.14 377.54,476.18 377.69,476.23 377.86,476.28 378.03,476.33 378.21,476.38 378.4,476.43 378.59,476.49 378.79,476.55 378.99,476.61 379.2,476.67 379.42,476.74 379.65,476.8 379.88,476.87 380.12,476.94 380.36,477.01 380.62,477.09 380.88,477.17 381.14,477.24 381.42,477.32 381.7,477.41 381.99,477.49 382.28,477.58 382.59,477.67 382.9,477.76 383.21,477.85 383.54,477.95 383.87,478.05 384.21,478.15 384.55,478.25 384.91,478.35 385.27,478.46 385.64,478.57 386.01,478.68 386.4,478.79 386.79,478.91 387.19,479.03 387.59,479.14 388.01,479.27 388.43,479.39 388.86,479.52 389.29,479.65 389.74,479.78 390.19,479.91 390.65,480.05 391.12,480.18 391.59,480.32 392.07,480.47 392.56,480.61 393.06,480.76 393.57,480.91 394.08,481.06 394.6,481.21 395.13,481.37 395.67,481.53 396.22,481.69 396.77,481.85 397.33,482.02 397.9,482.18 398.48,482.35 399.06,482.53 399.66,482.7 400.26,482.88 400.87,483.06 401.49,483.24 402.11,483.42 402.75,483.61 403.39,483.8 404.04,483.99 404.7,484.19 405.36,484.38 406.04,484.58 406.72,484.78 407.41,484.99 408.11,485.19 408.82,485.4 409.54,485.61 410.26,485.83 410.99,486.04 411.73,486.26 412.48,486.48 413.24,486.7 414.01,486.93 414.78,487.16 415.57,487.39 416.36,487.62 417.16,487.86 417.97,488.1 418.78,488.34 419.61,488.58 420.44,488.83 421.28,489.08 422.14,489.33 423,489.58 423.86,489.84 424.74,490.09 425.63,490.35 426.52,490.62 427.42,490.88 428.33,491.15 429.25,491.42 430.18,491.7 431.12,491.97 432.06,492.25 433.02,492.53 433.98,492.82 434.95,493.1 435.93,493.39 436.92,493.68 437.92,493.98 438.93,494.28 439.95,494.57 440.97,494.88 440.97,494.88 440.97,494.88 440.98,494.88 440.98,494.88 441,494.88 441.01,494.89 441.03,494.9 441.06,494.9 441.09,494.91 441.12,494.92 441.16,494.93 441.21,494.95 441.26,494.96 441.31,494.98 441.37,495 441.44,495.01 441.51,495.04 441.59,495.06 441.67,495.08 441.76,495.11 441.85,495.14 441.95,495.17 442.05,495.2 442.17,495.23 442.28,495.26 442.41,495.3 442.54,495.34 442.67,495.38 442.81,495.42 442.96,495.46 443.12,495.51 443.28,495.56 443.44,495.61 443.62,495.66 443.8,495.71 443.98,495.77 444.18,495.82 444.37,495.88 444.58,495.94 444.79,496 445.01,496.07 445.24,496.13 445.47,496.2 445.71,496.27 445.96,496.35 446.21,496.42 446.47,496.5 446.73,496.58 447.01,496.66 447.29,496.74 447.57,496.82 447.87,496.91 448.17,497 448.48,497.09 448.79,497.18 449.11,497.28 449.44,497.37 449.78,497.47 450.12,497.58 450.47,497.68 450.83,497.78 451.2,497.89 451.57,498 451.95,498.11 452.34,498.23 452.73,498.34 453.13,498.46 453.54,498.58 453.96,498.71 454.38,498.83 454.81,498.96 455.25,499.09 455.7,499.22 456.15,499.35 456.62,499.49 457.08,499.63 457.56,499.77 458.04,499.91 458.54,500.05 459.04,500.2 459.54,500.35 460.06,500.5 460.58,500.66 461.11,500.81 461.65,500.97 462.19,501.13 462.75,501.3 463.31,501.46 463.88,501.63 464.45,501.8 465.04,501.97 465.63,502.14 466.23,502.32 466.84,502.5 467.45,502.68 468.08,502.87 468.71,503.05 469.35,503.24 469.99,503.43 470.65,503.62 471.31,503.82 471.99,504.02 472.67,504.22 473.35,504.42 474.05,504.63 474.75,504.83 475.46,505.04 476.18,505.26 476.91,505.47 477.65,505.69 478.39,505.91 479.15,506.13 479.91,506.35 480.67,506.58 481.45,506.81 482.24,507.04 483.03,507.27 483.83,507.51 484.64,507.75 485.46,507.99 486.29,508.23 487.12,508.48 487.97,508.73 488.82,508.98 489.68,509.23 490.55,509.49 491.42,509.75 492.31,510.01 493.2,510.27 494.1,510.54 495.01,510.81 495.93,511.08 496.86,511.35 497.8,511.63 498.74,511.9 499.69,512.18 500.65,512.47 501.62,512.75 502.6,513.04 503.59,513.33 504.58,513.63" fill="none" stroke="#234f8f" stroke-width="1.6" clip-path="url(#cpC)"/>
<polyline points="310,446.11 310,446.14 310.01,446.25 310.01,446.44 310.03,446.72 310.04,447.09 310.06,447.53 310.09,448.05 310.12,448.63 310.16,449.25 310.2,449.9 310.24,450.57 310.29,451.24 310.35,451.91 310.41,452.56 310.48,453.19 310.55,453.79 310.63,454.38 310.72,454.95 310.81,455.5 310.91,456.05 311.01,456.59 311.12,457.12 311.23,457.66 311.35,458.2 311.48,458.74 311.61,459.29 311.75,459.83 311.9,460.38 312.05,460.93 312.21,461.47 312.37,462 312.55,462.53 312.73,463.05 312.91,463.55 313.1,464.04 313.3,464.52 313.51,464.98 313.72,465.42 313.94,465.84 314.16,466.24 314.39,466.62 314.63,466.98 314.88,467.32 315.13,467.64 315.39,467.94 315.66,468.23 315.93,468.49 316.21,468.74 316.5,468.97 316.8,469.19 317.1,469.39 317.41,469.59 317.73,469.77 318.05,469.94 318.38,470.11 318.72,470.27 319.07,470.42 319.42,470.56 319.78,470.71 320.15,470.85 320.53,470.98 320.91,471.12 321.3,471.25 321.7,471.38 322.11,471.52 322.52,471.65 322.94,471.78 323.37,471.91 323.81,472.05 324.25,472.18 324.7,472.32 325.16,472.46 325.63,472.6 326.11,472.74 326.59,472.88 327.08,473.03 327.58,473.18 328.08,473.33 328.6,473.48 329.12,473.63 329.65,473.79 330.19,473.95 330.73,474.11 331.29,474.27 331.85,474.44 332.42,474.61 332.99,474.78 333.58,474.95 334.17,475.12 334.77,475.3 335.38,475.48 336,475.66 336.63,475.85 337.26,476.04 337.9,476.22 338.55,476.42 339.21,476.61 339.88,476.81 340.55,477.01 341.24,477.21 341.93,477.41 342.63,477.62 343.34,477.83 344.05,478.04 344.78,478.25 345.51,478.47 346.25,478.68 347,478.91 347.76,479.13 348.52,479.35 349.3,479.58 350.08,479.81 350.87,480.05 351.67,480.28 352.48,480.52 353.3,480.76 354.12,481.01 354.96,481.25 355.8,481.5 356.65,481.75 357.51,482 358.38,482.26 359.26,482.52 360.14,482.78 361.03,483.04 361.94,483.31 362.85,483.58 363.77,483.85 364.7,484.12 365.63,484.4 366.58,484.68 367.53,484.96 368.5,485.24 369.47,485.53 370.45,485.82 371.44,486.11 372.44,486.4 373.44,486.7 374.46,487 375.48,487.3 375.49,487.3 375.49,487.3 375.49,487.3 375.5,487.31 375.51,487.31 375.53,487.31 375.55,487.32 375.57,487.33 375.61,487.34 375.64,487.35 375.68,487.36 375.73,487.37 375.78,487.39 375.84,487.4 375.9,487.42 375.97,487.44 376.04,487.46 376.12,487.49 376.2,487.51 376.29,487.54 376.39,487.57 376.49,487.6 376.6,487.63 376.72,487.66 376.84,487.7 376.96,487.74 377.1,487.78 377.24,487.82 377.38,487.86 377.54,487.91 377.69,487.95 377.86,488 378.03,488.05 378.21,488.1 378.4,488.16 378.59,488.22 378.79,488.27 378.99,488.33 379.2,488.4 379.42,488.46 379.65,488.53 379.88,488.6 380.12,488.67 380.36,488.74 380.62,488.81 380.88,488.89 381.14,488.97 381.42,489.05 381.7,489.13 381.99,489.22 382.28,489.3 382.59,489.39 382.9,489.49 383.21,489.58 383.54,489.67 383.87,489.77 384.21,489.87 384.55,489.97 384.91,490.08 385.27,490.19 385.64,490.29 386.01,490.4 386.4,490.52 386.79,490.63 387.19,490.75 387.59,490.87 388.01,490.99 388.43,491.12 388.86,491.24 389.29,491.37 389.74,491.5 390.19,491.63 390.65,491.77 391.12,491.91 391.59,492.05 392.07,492.19 392.56,492.33 393.06,492.48 393.57,492.63 394.08,492.78 394.6,492.94 395.13,493.09 395.67,493.25 396.22,493.41 396.77,493.57 397.33,493.74 397.9,493.91 398.48,494.08 399.06,494.25 399.66,494.43 400.26,494.6 400.87,494.78 401.49,494.96 402.11,495.15 402.75,495.34 403.39,495.53 404.04,495.72 404.7,495.91 405.36,496.11 406.04,496.31 406.72,496.51 407.41,496.71 408.11,496.92 408.82,497.13 409.54,497.34 410.26,497.55 410.99,497.77 411.73,497.99 412.48,498.21 413.24,498.43 414.01,498.66 414.78,498.88 415.57,499.11 416.36,499.35 417.16,499.58 417.97,499.82 418.78,500.06 419.61,500.31 420.44,500.55 421.28,500.8 422.14,501.05 423,501.3 423.86,501.56 424.74,501.82 425.63,502.08 426.52,502.34 427.42,502.61 428.33,502.88 429.25,503.15 430.18,503.42 431.12,503.7 432.06,503.98 433.02,504.26 433.98,504.54 434.95,504.83 435.93,505.12 436.92,505.41 437.92,505.7 438.93,506 439.95,506.3 440.97,506.6 440.97,445.65 440.97,445.68 440.98,445.77 440.98,445.96 441,446.22 441.01,446.57 441.03,446.99 441.06,447.48 441.09,448.03 441.12,448.62 441.16,449.24 441.21,449.88 441.26,450.52 441.31,451.15 441.37,451.77 441.44,452.37 441.51,452.95 441.59,453.51 441.67,454.05 441.76,454.58 441.85,455.09 441.95,455.6 442.05,456.11 442.17,456.61 442.28,457.12 442.41,457.63 442.54,458.14 442.67,458.65 442.81,459.16 442.96,459.67 443.12,460.17 443.28,460.67 443.44,461.17 443.62,461.65 443.8,462.13 443.98,462.59 444.18,463.03 444.37,463.47 444.58,463.88 444.79,464.28 445.01,464.66 445.24,465.02 445.47,465.36 445.71,465.69 445.96,465.99 446.21,466.28 446.47,466.55 446.73,466.81 447.01,467.05 447.29,467.27 447.57,467.49 447.87,467.68 448.17,467.87 448.48,468.05 448.79,468.22 449.11,468.38 449.44,468.54 449.78,468.69 450.12,468.83 450.47,468.97 450.83,469.11 451.2,469.24 451.57,469.37 451.95,469.51 452.34,469.64 452.73,469.76 453.13,469.89 453.54,470.02 453.96,470.15 454.38,470.28 454.81,470.42 455.25,470.55 455.7,470.69 456.15,470.82 456.62,470.96 457.08,471.1 457.56,471.24 458.04,471.38 458.54,471.53 459.04,471.68 459.54,471.83 460.06,471.98 460.58,472.13 461.11,472.29 461.65,472.45 462.19,472.61 462.75,472.77 463.31,472.94 463.88,473.11 464.45,473.28 465.04,473.45 465.63,473.62 466.23,473.8 466.84,473.98 467.45,474.16 468.08,474.35 468.71,474.53 469.35,474.72 469.99,474.91 470.65,475.1 471.31,475.3 471.99,475.5 472.67,475.7 473.35,475.9 474.05,476.11 474.75,476.31 475.46,476.52 476.18,476.74 476.91,476.95 477.65,477.17 478.39,477.39 479.15,477.61 479.91,477.83 480.67,478.06 481.45,478.29 482.24,478.52 483.03,478.75 483.83,478.99 484.64,479.23 485.46,479.47 486.29,479.71 487.12,479.96 487.97,480.21 488.82,480.46 489.68,480.71 490.55,480.97 491.42,481.23 492.31,481.49 493.2,481.75 494.1,482.02 495.01,482.28 495.93,482.56 496.86,482.83 497.8,483.1 498.74,483.38 499.69,483.66 500.65,483.95 501.62,484.23 502.6,484.52 503.59,484.81 504.58,485.11" fill="none" stroke="#234f8f" stroke-width="1.6" stroke-dasharray="4.2 3.6" clip-path="url(#cpC)"/>
<polyline points="310,452.97 310,453 310.01,453.11 310.01,453.3 310.03,453.58 310.04,453.95 310.06,454.39 310.09,454.91 310.12,455.49 310.16,456.11 310.2,456.76 310.24,457.43 310.29,458.1 310.35,458.77 310.41,459.42 310.48,460.04 310.55,460.65 310.63,461.24 310.72,461.81 310.81,462.36 310.91,462.91 311.01,463.45 311.12,463.98 311.23,464.52 311.35,465.06 311.48,465.6 311.61,466.15 311.75,466.69 311.9,467.24 312.05,467.78 312.21,468.33 312.37,468.86 312.55,469.39 312.73,469.91 312.91,470.41 313.1,470.9 313.3,471.38 313.51,471.84 313.72,472.28 313.94,472.7 314.16,473.1 314.39,473.48 314.63,473.84 314.88,474.18 315.13,474.5 315.39,474.8 315.66,475.09 315.93,475.35 316.21,475.6 316.5,475.83 316.8,476.05 317.1,476.25 317.41,476.45 317.73,476.63 318.05,476.8 318.38,476.97 318.72,477.12 319.07,477.28 319.42,477.42 319.78,477.57 320.15,477.7 320.53,477.84 320.91,477.98 321.3,478.11 321.7,478.24 322.11,478.37 322.52,478.51 322.94,478.64 323.37,478.77 323.81,478.91 324.25,479.04 324.7,479.18 325.16,479.32 325.63,479.46 326.11,479.6 326.59,479.74 327.08,479.89 327.58,480.04 328.08,480.19 328.6,480.34 329.12,480.49 329.65,480.65 330.19,480.81 330.73,480.97 331.29,481.13 331.85,481.3 332.42,481.47 332.99,481.64 333.58,481.81 334.17,481.98 334.77,482.16 335.38,482.34 336,482.52 336.63,482.71 337.26,482.89 337.9,483.08 338.55,483.27 339.21,483.47 339.88,483.67 340.55,483.86 341.24,484.07 341.93,484.27 342.63,484.48 343.34,484.68 344.05,484.9 344.78,485.11 345.51,485.32 346.25,485.54 347,485.76 347.76,485.99 348.52,486.21 349.3,486.44 350.08,486.67 350.87,486.91 351.67,487.14 352.48,487.38 353.3,487.62 354.12,487.86 354.96,488.11 355.8,488.36 356.65,488.61 357.51,488.86 358.38,489.12 359.26,489.38 360.14,489.64 361.03,489.9 361.94,490.17 362.85,490.44 363.77,490.71 364.7,490.98 365.63,491.26 366.58,491.54 367.53,491.82 368.5,492.1 369.47,492.39 370.45,492.68 371.44,492.97 372.44,493.26 373.44,493.56 374.46,493.86 375.48,494.16 375.49,451.55 375.49,451.58 375.49,451.68 375.5,451.85 375.51,452.11 375.53,452.45 375.55,452.86 375.57,453.33 375.61,453.85 375.64,454.42 375.68,455.01 375.73,455.61 375.78,456.22 375.84,456.81 375.9,457.39 375.97,457.95 376.04,458.49 376.12,459 376.2,459.5 376.29,459.99 376.39,460.47 376.49,460.94 376.6,461.4 376.72,461.87 376.84,462.33 376.96,462.8 377.1,463.27 377.24,463.73 377.38,464.2 377.54,464.66 377.69,465.12 377.86,465.57 378.03,466.01 378.21,466.44 378.4,466.86 378.59,467.27 378.79,467.66 378.99,468.04 379.2,468.41 379.42,468.76 379.65,469.09 379.88,469.4 380.12,469.7 380.36,469.98 380.62,470.25 380.88,470.5 381.14,470.73 381.42,470.96 381.7,471.17 381.99,471.36 382.28,471.55 382.59,471.73 382.9,471.9 383.21,472.06 383.54,472.21 383.87,472.36 384.21,472.51 384.55,472.65 384.91,472.78 385.27,472.92 385.64,473.05 386.01,473.18 386.4,473.31 386.79,473.44 387.19,473.57 387.59,473.7 388.01,473.83 388.43,473.96 388.86,474.09 389.29,474.22 389.74,474.36 390.19,474.49 390.65,474.63 391.12,474.77 391.59,474.91 392.07,475.05 392.56,475.2 393.06,475.35 393.57,475.5 394.08,475.65 394.6,475.8 395.13,475.96 395.67,476.12 396.22,476.28 396.77,476.44 397.33,476.61 397.9,476.78 398.48,476.95 399.06,477.12 399.66,477.29 400.26,477.47 400.87,477.65 401.49,477.83 402.11,478.02 402.75,478.2 403.39,478.39 404.04,478.58 404.7,478.78 405.36,478.98 406.04,479.17 406.72,479.38 407.41,479.58 408.11,479.79 408.82,479.99 409.54,480.21 410.26,480.42 410.99,480.63 411.73,480.85 412.48,481.07 413.24,481.3 414.01,481.52 414.78,481.75 415.57,481.98 416.36,482.22 417.16,482.45 417.97,482.69 418.78,482.93 419.61,483.17 420.44,483.42 421.28,483.67 422.14,483.92 423,484.17 423.86,484.43 424.74,484.69 425.63,484.95 426.52,485.21 427.42,485.48 428.33,485.75 429.25,486.02 430.18,486.29 431.12,486.57 432.06,486.85 433.02,487.13 433.98,487.41 434.95,487.7 435.93,487.99 436.92,488.28 437.92,488.57 438.93,488.87 439.95,489.17 440.97,489.47 440.97,451.12 440.97,451.15 440.98,451.24 440.98,451.41 441,451.65 441.01,451.97 441.03,452.36 441.06,452.81 441.09,453.31 441.12,453.85 441.16,454.41 441.21,454.98 441.26,455.56 441.31,456.13 441.37,456.69 441.44,457.22 441.51,457.74 441.59,458.24 441.67,458.72 441.76,459.18 441.85,459.64 441.95,460.08 442.05,460.53 442.17,460.97 442.28,461.41 442.41,461.85 442.54,462.29 442.67,462.73 442.81,463.17 442.96,463.6 443.12,464.04 443.28,464.46 443.44,464.88 443.62,465.29 443.8,465.69 443.98,466.08 444.18,466.46 444.37,466.82 444.58,467.17 444.79,467.5 445.01,467.82 445.24,468.12 445.47,468.41 445.71,468.68 445.96,468.94 446.21,469.19 446.47,469.42 446.73,469.63 447.01,469.84 447.29,470.03 447.57,470.22 447.87,470.39 448.17,470.56 448.48,470.72 448.79,470.87 449.11,471.02 449.44,471.16 449.78,471.3 450.12,471.43 450.47,471.57 450.83,471.7 451.2,471.82 451.57,471.95 451.95,472.08 452.34,472.2 452.73,472.33 453.13,472.46 453.54,472.58 453.96,472.71 454.38,472.84 454.81,472.97 455.25,473.11 455.7,473.24 456.15,473.38 456.62,473.51 457.08,473.65 457.56,473.79 458.04,473.94 458.54,474.08 459.04,474.23 459.54,474.38 460.06,474.53 460.58,474.69 461.11,474.84 461.65,475 462.19,475.16 462.75,475.33 463.31,475.49 463.88,475.66 464.45,475.83 465.04,476 465.63,476.18 466.23,476.35 466.84,476.53 467.45,476.71 468.08,476.9 468.71,477.08 469.35,477.27 469.99,477.46 470.65,477.66 471.31,477.85 471.99,478.05 472.67,478.25 473.35,478.45 474.05,478.66 474.75,478.87 475.46,479.08 476.18,479.29 476.91,479.5 477.65,479.72 478.39,479.94 479.15,480.16 479.91,480.38 480.67,480.61 481.45,480.84 482.24,481.07 483.03,481.31 483.83,481.54 484.64,481.78 485.46,482.02 486.29,482.27 487.12,482.51 487.97,482.76 488.82,483.01 489.68,483.26 490.55,483.52 491.42,483.78 492.31,484.04 493.2,484.3 494.1,484.57 495.01,484.84 495.93,485.11 496.86,485.38 497.8,485.66 498.74,485.94 499.69,486.22 500.65,486.5 501.62,486.79 502.6,487.07 503.59,487.36 504.58,487.66" fill="none" stroke="#234f8f" stroke-width="1.3" stroke-dasharray="1.1 1.3" clip-path="url(#cpC)"/>
<path d="M310 426V581.8H497.9" stroke="#1a1a1a" stroke-width="1.35" fill="none"/>
<path d="M306.5 426H310M306.5 464.95H310M306.5 503.9H310M306.5 542.85H310M306.5 581.8H310M310 581.8V585.3M356.98 581.8V585.3M403.95 581.8V585.3M450.92 581.8V585.3M497.9 581.8V585.3" stroke="#1a1a1a" stroke-width="1.35" fill="none"/>
<text class="tn" x="305.3" y="429" font-size="8.3" text-anchor="end" >1,000</text>
<text class="tn" x="305.3" y="467.95" font-size="8.3" text-anchor="end" >100</text>
<text class="tn" x="305.3" y="506.9" font-size="8.3" text-anchor="end" >10</text>
<text class="tn" x="305.3" y="545.85" font-size="8.3" text-anchor="end" >1</text>
<text class="tn" x="305.3" y="584.8" font-size="8.3" text-anchor="end" >0</text>
<text class="tn" x="310" y="594.4" font-size="8.3" text-anchor="middle" >0</text>
<text class="tn" x="356.98" y="594.4" font-size="8.3" text-anchor="middle" >5</text>
<text class="tn" x="403.95" y="594.4" font-size="8.3" text-anchor="middle" >10</text>
<text class="tn" x="450.92" y="594.4" font-size="8.3" text-anchor="middle" >15</text>
<text class="tn" x="497.9" y="594.4" font-size="8.3" text-anchor="middle" >20</text>
<text class="tb" x="405.95" y="606.5" font-size="8.5" text-anchor="middle" >Time (d)</text>
<text class="tr" transform="translate(279.2 503.9) rotate(-90)" font-size="8.65" text-anchor="middle">Serum concentration (µg/mL)</text>
<path d="M404.4 544.8H422.8" stroke="#234f8f" stroke-width="1.6"/>
<text class="tb" x="427" y="547.8" font-size="8.5" text-anchor="start" >30 mg/kg Q3W</text>
<path d="M404.4 556.4H422.8" stroke="#234f8f" stroke-width="1.6" stroke-dasharray="4.2 3.6"/>
<text class="tb" x="427" y="559.4" font-size="8.5" text-anchor="start" >15 mg/kg Q2W</text>
<path d="M404.4 568H422.8" stroke="#234f8f" stroke-width="1.3" stroke-dasharray="1.1 1.3"/>
<text class="tb" x="427" y="571" font-size="8.5" text-anchor="start" >10 mg/kg Q1W</text>
</g>
<g shape-rendering="crispEdges">
<rect x="0" y="1" width="1" height="623" fill="#6a6a6a"/><rect x="1" y="1" width="1" height="623" fill="#a5a5a5"/>
<rect x="518" y="1" width="1" height="623" fill="#c0c0c0"/><rect x="519" y="0" width="1" height="624" fill="#6a6a6a"/>
<rect x="0" y="0" width="519" height="1" fill="#6a6a6a"/><rect x="2" y="1" width="516" height="1" fill="#b5b5b5"/>
<rect x="0" y="624" width="520" height="2" fill="#a8a8a8"/>
</g>
</svg>
</body></html>
